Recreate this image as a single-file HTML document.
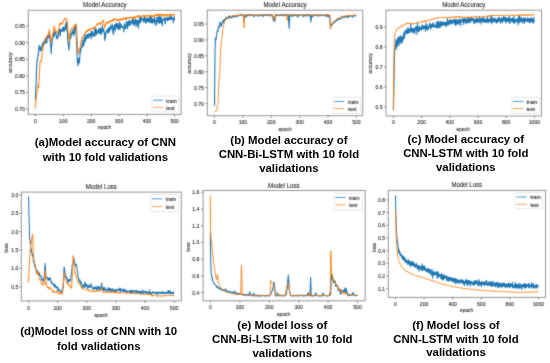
<!DOCTYPE html>
<html><head><meta charset="utf-8"><title>Model accuracy and loss</title>
<style>
html,body{margin:0;padding:0;background:#fff;width:550px;height:363px;overflow:hidden}
svg{display:block}
.t{font-family:"Liberation Sans",sans-serif;stroke:#3a3a3a;stroke-width:0.12px}
.cap{font-family:"Liberation Sans",sans-serif;font-weight:bold;font-size:11.4px;fill:#000;text-anchor:middle}
</style></head><body>
<svg width="550" height="363" viewBox="0 0 550 363" style="will-change:transform">
<defs><filter id="sf" x="0" y="0" width="550" height="363" filterUnits="userSpaceOnUse" color-interpolation-filters="sRGB"><feConvolveMatrix order="3" kernelMatrix="1 2 1 2 16 2 1 2 1" divisor="28" edgeMode="duplicate"/></filter></defs><g filter="url(#sf)"><rect width="550" height="363" fill="#fff"/><clipPath id="cla"><rect x="28.3" y="10.3" width="152.79999999999998" height="104.10000000000001"/></clipPath>
<g clip-path="url(#cla)">
<polyline points="35.30,100.00 35.58,95.32 35.86,89.24 36.14,83.08 36.30,80.76 36.42,73.51 36.60,65.00 36.69,66.58 36.97,62.06 37.25,60.33 37.50,60.81 37.53,60.40 37.81,58.24 38.09,54.78 38.30,54.95 38.37,55.55 38.65,49.59 38.92,48.52 39.00,45.41 39.20,46.70 39.48,46.14 39.76,49.23 40.04,47.85 40.32,50.84 40.60,51.02 40.88,50.81 41.00,46.97 41.15,49.81 41.43,49.65 41.71,48.92 41.99,45.05 42.27,45.87 42.55,43.98 42.83,43.27 43.10,45.57 43.11,42.27 43.39,43.30 43.66,44.59 43.94,41.65 44.22,42.15 44.50,42.21 44.78,41.79 45.06,39.13 45.34,41.14 45.62,43.13 45.89,37.52 46.17,41.56 46.45,39.88 46.50,38.43 46.73,42.82 47.01,40.00 47.29,35.84 47.57,37.64 47.85,38.03 48.12,36.06 48.40,37.14 48.68,35.19 48.96,36.02 49.24,36.93 49.30,32.83 49.52,36.37 49.80,37.50 50.08,41.02 50.36,40.91 50.63,44.46 50.91,47.59 51.19,52.10 51.30,53.51 51.47,46.91 51.75,44.92 52.03,44.70 52.31,36.56 52.59,36.53 52.70,36.01 52.86,38.33 53.14,36.67 53.42,34.11 53.70,33.47 53.98,33.15 54.26,36.11 54.54,31.67 54.80,31.39 54.82,32.75 55.09,32.53 55.37,33.11 55.65,31.99 55.93,34.94 56.21,34.79 56.49,38.79 56.77,38.48 56.90,37.45 57.05,38.60 57.33,36.03 57.60,38.38 57.88,35.70 58.16,36.40 58.44,32.02 58.72,34.90 59.00,30.16 59.28,28.92 59.56,32.02 59.83,30.26 60.11,31.99 60.30,36.02 60.39,29.49 60.67,29.72 60.95,31.27 61.23,31.67 61.51,30.07 61.79,29.81 62.06,31.52 62.34,30.93 62.62,27.47 62.90,29.28 63.10,29.37 63.18,27.12 63.46,30.02 63.74,27.79 64.02,31.78 64.30,30.27 64.57,30.19 64.85,28.88 65.00,29.95 65.13,25.58 65.41,26.56 65.69,28.85 65.97,22.74 66.25,28.16 66.50,21.91 66.53,27.39 66.80,26.14 67.08,31.69 67.30,31.98 67.36,29.20 67.64,38.45 67.92,42.22 68.20,42.40 68.48,45.33 68.76,48.93 68.80,47.74 69.03,49.99 69.31,43.99 69.59,42.51 69.87,38.41 70.15,36.23 70.30,33.49 70.43,38.69 70.71,35.34 70.99,37.35 71.27,34.97 71.54,33.11 71.82,33.52 72.10,32.66 72.38,33.50 72.60,32.40 72.66,32.50 72.94,29.94 73.22,30.87 73.50,35.82 73.77,30.60 74.05,29.51 74.10,32.42 74.33,34.10 74.61,27.32 74.89,29.26 75.17,27.65 75.45,24.54 75.60,29.46 75.73,29.16 76.00,32.25 76.28,33.39 76.40,37.17 76.56,39.97 76.84,49.26 77.10,55.04 77.12,55.00 77.40,63.08 77.68,61.81 77.90,65.62 77.96,64.44 78.24,61.14 78.51,58.57 78.60,60.24 78.79,58.64 79.07,59.52 79.35,60.45 79.40,63.01 79.63,59.34 79.91,55.54 80.19,50.35 80.20,48.45 80.47,52.35 80.74,51.25 81.02,47.75 81.30,48.08 81.58,47.45 81.70,47.08 81.86,46.95 82.14,43.45 82.42,47.10 82.70,40.64 82.97,44.59 83.20,43.36 83.25,44.10 83.53,45.87 83.81,44.65 84.09,38.65 84.37,37.11 84.65,42.10 84.93,37.80 85.21,39.57 85.48,41.02 85.50,35.68 85.76,34.50 86.04,39.39 86.32,38.74 86.60,37.92 86.88,38.34 87.16,36.22 87.44,34.63 87.70,37.34 87.71,35.60 87.99,33.89 88.27,38.23 88.55,36.74 88.83,37.48 89.11,34.21 89.39,34.65 89.67,33.65 89.94,33.62 90.22,35.68 90.50,33.30 90.78,35.48 90.80,35.43 91.06,39.01 91.34,31.60 91.62,36.46 91.90,34.30 92.18,34.41 92.45,31.26 92.73,33.34 93.01,35.88 93.29,34.05 93.57,34.35 93.85,33.49 94.13,36.56 94.41,33.97 94.68,29.21 94.96,32.41 95.00,29.65 95.24,26.57 95.52,32.08 95.80,35.74 96.08,32.60 96.36,29.60 96.64,29.74 96.91,33.85 97.00,31.64 97.19,31.38 97.47,31.13 97.75,31.30 98.03,32.93 98.31,32.35 98.59,31.59 98.87,28.84 99.15,32.17 99.42,29.55 99.70,33.37 99.98,28.22 100.26,30.65 100.54,30.90 100.82,28.01 101.10,34.59 101.38,33.99 101.65,29.79 101.93,32.44 102.21,31.55 102.49,25.03 102.50,31.24 102.77,30.61 103.05,30.98 103.33,28.51 103.61,30.31 103.88,30.56 104.16,33.58 104.20,31.73 104.44,33.81 104.72,40.38 105.00,39.09 105.00,39.45 105.28,33.11 105.56,37.23 105.80,33.10 105.84,32.97 106.12,32.26 106.39,30.87 106.67,30.93 106.95,29.74 107.23,29.67 107.51,30.06 107.79,33.06 108.07,30.81 108.35,29.29 108.62,27.99 108.90,27.69 109.18,32.40 109.46,29.84 109.74,28.70 110.02,27.63 110.30,25.79 110.58,27.89 110.80,29.81 110.85,27.02 111.13,27.29 111.41,27.21 111.69,27.84 111.97,24.02 112.25,26.90 112.53,25.88 112.81,32.32 113.09,31.97 113.36,34.37 113.64,33.62 113.92,26.69 114.20,25.44 114.48,27.06 114.76,26.54 114.90,24.32 115.04,27.47 115.32,30.79 115.59,25.72 115.87,25.75 116.15,23.82 116.43,26.73 116.71,23.20 116.99,23.42 117.27,28.58 117.55,23.69 117.82,27.97 118.10,28.86 118.38,25.99 118.66,26.55 118.94,29.54 119.10,24.77 119.22,23.96 119.50,22.42 119.78,25.63 120.06,28.93 120.33,27.93 120.61,23.88 120.89,24.21 121.17,25.13 121.45,27.02 121.73,26.06 122.01,27.13 122.29,27.45 122.56,26.27 122.84,26.98 123.12,27.67 123.40,27.17 123.68,28.60 123.96,31.75 124.10,29.00 124.24,27.67 124.52,23.53 124.79,28.21 125.07,25.34 125.35,26.83 125.63,28.61 125.91,27.21 126.19,24.98 126.47,21.23 126.75,23.86 127.03,22.86 127.30,25.44 127.58,28.69 127.86,23.89 128.14,21.76 128.30,21.70 128.42,25.21 128.70,25.21 128.98,20.83 129.26,23.05 129.53,20.21 129.81,25.15 130.09,25.01 130.37,25.02 130.65,21.56 130.93,23.70 131.21,22.24 131.49,21.64 131.76,21.71 132.04,19.56 132.32,19.21 132.60,24.10 132.88,21.90 133.16,22.76 133.44,24.45 133.72,18.40 133.80,20.47 134.00,22.53 134.27,22.95 134.55,21.64 134.83,26.14 135.11,23.72 135.39,19.25 135.67,19.62 135.95,23.41 136.23,23.56 136.50,20.55 136.78,26.16 137.06,22.76 137.34,24.13 137.62,20.27 137.90,20.91 138.18,20.78 138.46,28.19 138.73,20.62 139.01,24.19 139.29,19.18 139.57,20.89 139.85,16.77 140.13,19.52 140.41,22.45 140.69,17.45 140.70,22.56 140.97,20.94 141.24,17.90 141.52,19.10 141.80,19.19 142.08,20.09 142.36,19.02 142.64,18.38 142.92,19.60 143.20,19.03 143.47,20.33 143.75,21.52 144.03,22.27 144.31,16.84 144.59,20.21 144.87,18.77 145.15,18.05 145.43,22.08 145.70,19.06 145.98,23.50 146.26,18.48 146.54,21.05 146.82,19.70 147.10,18.54 147.38,21.49 147.50,19.86 147.66,21.54 147.94,20.13 148.21,17.87 148.49,20.06 148.77,20.42 149.05,22.44 149.33,18.37 149.61,20.30 149.89,16.62 150.17,21.87 150.44,18.08 150.72,16.51 151.00,20.37 151.28,22.96 151.56,17.20 151.84,18.29 152.12,20.45 152.40,21.84 152.67,23.12 152.95,19.03 153.23,19.11 153.51,22.01 153.79,19.08 154.07,21.72 154.35,18.66 154.40,18.13 154.63,16.74 154.91,24.85 155.18,20.03 155.46,21.24 155.74,20.62 156.02,21.01 156.30,20.74 156.58,24.81 156.86,18.30 157.14,17.14 157.41,18.31 157.69,17.58 157.97,22.13 158.25,22.27 158.53,18.33 158.81,17.36 159.09,19.61 159.37,23.43 159.64,14.14 159.92,21.48 160.20,17.93 160.48,22.56 160.76,17.88 161.04,19.59 161.30,16.89 161.32,18.05 161.60,23.23 161.88,22.44 162.15,23.25 162.43,25.71 162.71,19.39 162.99,19.53 163.27,19.94 163.55,19.79 163.83,19.74 164.11,17.45 164.38,19.74 164.66,19.77 164.94,22.67 165.22,23.91 165.50,19.47 165.78,18.06 166.06,19.57 166.34,18.35 166.61,18.03 166.89,19.50 167.17,17.31 167.45,20.91 167.73,19.32 168.01,20.07 168.20,19.10 168.29,17.89 168.57,17.38 168.85,18.91 169.12,18.19 169.40,19.89 169.68,19.33 169.96,16.31 170.24,19.43 170.52,16.30 170.80,17.86 171.08,18.54 171.35,14.59 171.63,19.33 171.91,19.43 172.19,18.72 172.47,18.11 172.75,18.30 173.03,18.44 173.31,22.58 173.58,19.67 173.86,19.25 174.14,16.21 174.42,19.45 174.70,20.22" fill="none" stroke="#1f77b4" stroke-width="1.15" stroke-linejoin="round" stroke-opacity="1"/>
<polyline points="35.10,108.51 35.38,105.53 35.66,103.19 35.94,99.25 36.22,97.48 36.30,96.52 36.50,95.19 36.78,93.30 37.05,90.86 37.33,89.12 37.50,88.42 37.61,87.85 37.89,86.59 38.17,84.57 38.30,85.07 38.45,86.64 38.60,87.80 38.73,85.47 39.01,80.39 39.10,80.27 39.29,76.22 39.57,69.83 39.85,66.09 39.90,64.15 40.13,62.39 40.30,61.28 40.40,62.11 40.68,60.94 40.96,60.92 41.24,61.31 41.52,60.89 41.60,59.95 41.80,57.52 42.08,53.73 42.36,50.73 42.40,50.81 42.64,49.86 42.92,48.62 43.20,47.97 43.48,45.99 43.76,45.25 44.03,44.54 44.31,43.37 44.59,42.52 44.87,41.09 45.15,39.64 45.20,39.78 45.43,38.75 45.71,38.01 45.99,38.69 46.27,37.95 46.55,37.71 46.83,36.28 47.11,36.52 47.38,35.98 47.66,35.43 47.90,34.37 47.94,35.18 48.22,34.84 48.50,33.63 48.78,32.18 49.06,31.52 49.30,31.08 49.34,29.54 49.62,32.39 49.90,34.26 50.18,35.86 50.46,37.91 50.74,39.16 51.01,40.29 51.29,41.82 51.30,42.09 51.57,39.95 51.85,38.68 52.13,37.64 52.41,36.65 52.69,34.08 52.97,32.62 53.25,31.22 53.53,30.28 53.81,28.08 54.09,27.31 54.10,26.02 54.36,27.19 54.64,28.01 54.92,29.32 55.20,30.28 55.48,29.82 55.76,30.95 56.04,32.40 56.20,32.37 56.32,31.85 56.60,32.92 56.88,32.45 57.16,32.24 57.44,31.55 57.72,32.09 57.99,31.25 58.27,31.71 58.55,30.50 58.83,30.32 58.90,30.80 59.11,28.27 59.39,26.20 59.60,23.93 59.67,23.32 59.95,23.75 60.23,23.47 60.51,24.03 60.79,23.19 61.07,23.21 61.34,23.97 61.62,24.41 61.90,24.22 62.18,23.19 62.40,23.21 62.46,23.76 62.74,22.44 63.02,21.53 63.30,21.58 63.58,21.26 63.86,20.13 64.14,19.24 64.40,18.88 64.42,19.92 64.70,18.99 64.97,19.08 65.25,19.04 65.53,19.02 65.80,18.33 65.81,18.77 66.09,18.47 66.37,19.13 66.50,18.99 66.65,20.50 66.93,20.72 67.21,21.17 67.30,21.62 67.49,24.34 67.77,28.75 68.00,30.90 68.05,31.55 68.32,34.16 68.60,37.90 68.88,39.39 69.16,41.14 69.20,41.86 69.44,40.38 69.72,36.74 70.00,34.19 70.28,32.49 70.30,31.95 70.56,31.50 70.84,30.33 71.12,30.97 71.40,30.29 71.68,29.14 71.80,28.94 71.95,27.49 72.23,28.64 72.51,28.04 72.79,28.17 73.07,28.11 73.35,27.42 73.63,26.56 73.91,27.41 74.10,26.73 74.19,26.76 74.47,26.06 74.75,25.64 75.03,24.09 75.30,25.30 75.58,24.26 75.60,24.66 75.86,25.58 76.14,25.13 76.40,24.70 76.42,25.60 76.70,31.18 76.98,37.28 77.10,40.04 77.26,41.86 77.54,48.06 77.60,48.24 77.82,51.32 78.10,53.91 78.10,53.84 78.38,53.04 78.66,51.88 78.70,51.69 78.93,49.65 79.21,48.68 79.40,48.42 79.49,48.50 79.77,48.21 80.05,47.93 80.20,47.26 80.33,47.28 80.61,44.30 80.89,42.06 80.90,41.85 81.17,41.24 81.45,40.14 81.73,39.48 82.01,38.14 82.28,37.66 82.40,38.64 82.56,37.18 82.84,36.61 83.12,36.51 83.40,36.11 83.68,34.72 83.96,34.68 84.24,34.76 84.52,33.95 84.70,33.56 84.80,34.15 85.08,32.66 85.36,32.67 85.64,31.99 85.91,32.63 86.19,30.53 86.20,31.16 86.47,31.10 86.75,31.56 87.03,31.39 87.31,31.64 87.59,30.02 87.87,31.04 88.15,30.38 88.43,30.05 88.71,30.52 88.99,29.65 89.20,28.96 89.26,29.79 89.54,29.12 89.82,29.44 90.10,29.84 90.38,29.71 90.66,30.24 90.94,29.24 91.22,28.47 91.50,28.75 91.78,28.56 92.06,28.31 92.34,29.03 92.62,28.38 92.89,27.61 93.17,28.84 93.45,28.33 93.73,28.46 94.01,28.23 94.29,28.38 94.57,27.98 94.85,28.48 95.00,28.01 95.13,27.78 95.41,27.33 95.69,25.94 95.97,26.12 96.24,25.62 96.52,25.39 96.80,24.15 97.00,25.32 97.08,24.52 97.36,23.77 97.64,23.43 97.92,24.05 98.20,24.06 98.48,23.65 98.76,23.96 99.04,23.50 99.32,24.00 99.60,23.27 99.87,23.52 100.15,23.94 100.43,24.64 100.71,22.76 100.99,22.94 101.20,22.68 101.27,23.42 101.55,22.16 101.83,22.20 102.11,22.13 102.39,21.36 102.67,21.08 102.95,21.03 103.20,19.95 103.22,20.40 103.50,22.29 103.78,23.95 104.06,25.16 104.34,25.74 104.60,27.67 104.62,28.23 104.90,27.15 105.18,25.87 105.46,24.51 105.74,24.32 106.00,22.81 106.02,22.51 106.30,22.58 106.58,23.59 106.85,22.86 107.13,23.21 107.41,22.28 107.69,22.87 107.97,21.99 108.25,22.09 108.53,23.30 108.81,22.33 109.09,21.58 109.37,21.67 109.40,21.86 109.65,22.18 109.93,21.19 110.20,20.43 110.48,21.02 110.76,21.03 111.04,20.93 111.32,21.40 111.60,20.76 111.88,20.87 112.16,19.77 112.44,20.61 112.72,21.09 113.00,20.29 113.28,19.89 113.56,19.70 113.60,20.49 113.83,18.70 114.11,18.59 114.30,18.53 114.39,18.76 114.67,18.45 114.95,19.10 115.23,19.09 115.51,19.57 115.79,19.72 116.07,19.50 116.30,20.29 116.35,20.73 116.63,19.75 116.91,20.05 117.18,20.44 117.46,19.52 117.74,20.08 118.02,19.40 118.30,20.44 118.58,20.97 118.86,20.76 119.14,19.58 119.42,20.00 119.70,19.63 119.98,19.56 120.26,20.23 120.50,18.74 120.54,19.92 120.81,19.33 121.09,20.01 121.37,19.35 121.65,18.88 121.93,19.31 122.21,19.49 122.49,19.10 122.77,19.28 123.05,18.73 123.33,17.88 123.61,19.35 123.89,19.21 124.16,18.89 124.44,18.80 124.72,19.24 125.00,18.45 125.28,18.28 125.50,18.51 125.56,19.18 125.84,17.82 126.12,19.04 126.40,18.05 126.68,17.75 126.96,18.86 127.24,18.11 127.52,17.44 127.79,17.84 128.07,18.41 128.35,18.47 128.63,17.59 128.91,17.93 129.19,18.02 129.47,17.27 129.75,17.70 130.03,17.43 130.31,17.11 130.59,17.06 130.87,17.27 131.00,17.21 131.14,16.95 131.42,17.08 131.70,17.91 131.98,17.52 132.26,17.91 132.54,18.13 132.82,17.88 133.10,18.79 133.38,17.30 133.66,18.17 133.80,17.64 133.94,18.68 134.22,18.52 134.50,16.60 134.77,17.01 135.05,17.73 135.33,17.71 135.61,17.59 135.89,17.10 136.17,17.28 136.45,17.29 136.73,16.83 137.01,17.30 137.29,15.56 137.57,16.92 137.85,16.00 137.90,16.98 138.12,16.36 138.40,16.00 138.68,16.61 138.96,15.94 139.24,15.91 139.52,15.55 139.80,16.29 140.08,16.53 140.36,16.76 140.64,16.15 140.92,16.72 141.20,16.17 141.48,16.09 141.75,16.40 142.03,16.61 142.31,15.88 142.59,15.90 142.87,15.92 143.15,16.01 143.43,15.49 143.71,16.42 143.99,15.68 144.27,16.09 144.55,15.41 144.80,15.98 144.83,16.00 145.10,15.62 145.38,16.86 145.66,16.06 145.94,16.79 146.22,16.40 146.50,15.62 146.78,15.78 147.06,16.21 147.34,16.05 147.62,16.07 147.90,15.93 148.18,15.19 148.46,16.01 148.73,15.03 149.01,16.35 149.29,15.83 149.57,15.86 149.85,16.13 150.13,16.40 150.41,15.57 150.69,15.44 150.97,15.80 151.25,15.34 151.53,15.90 151.70,17.20 151.81,15.84 152.08,16.59 152.36,15.49 152.64,16.23 152.92,15.82 153.20,15.86 153.48,16.08 153.76,16.57 154.04,15.70 154.32,15.57 154.60,14.92 154.88,15.61 155.16,15.10 155.44,15.54 155.71,15.01 155.80,15.87 155.99,14.01 156.27,14.85 156.55,15.44 156.83,14.82 157.11,14.60 157.39,14.87 157.67,14.31 157.95,15.06 158.23,16.22 158.51,15.57 158.79,14.45 159.06,14.56 159.34,14.80 159.62,15.50 159.90,14.59 160.18,14.65 160.46,15.44 160.74,15.43 161.02,14.81 161.30,14.44 161.30,14.23 161.58,14.68 161.86,13.95 162.14,15.47 162.42,14.81 162.69,15.39 162.97,16.12 163.25,15.80 163.53,14.67 163.81,15.71 164.09,15.88 164.37,14.96 164.65,14.89 164.93,15.34 165.21,14.63 165.49,16.19 165.77,14.28 166.04,14.96 166.32,15.41 166.60,15.46 166.80,15.68 166.88,15.72 167.16,15.42 167.44,16.03 167.72,14.33 168.00,15.34 168.28,14.93 168.56,15.29 168.84,15.27 169.12,14.65 169.40,14.72 169.60,15.40 169.67,15.17 169.95,14.64 170.23,15.98 170.51,16.10 170.79,14.20 171.07,15.06 171.35,16.15 171.63,15.27 171.91,14.97 172.19,14.74 172.47,14.56 172.75,14.71 173.02,14.52 173.30,15.15 173.58,14.57 173.86,14.53 174.14,14.13 174.42,14.69 174.70,14.25" fill="none" stroke="#ff7f0e" stroke-width="1.05" stroke-linejoin="round" stroke-opacity="1"/>
</g>
<rect x="28.3" y="10.3" width="152.79999999999998" height="104.10000000000001" fill="none" stroke="#959595" stroke-width="1"/>
<line x1="35.45" y1="114.4" x2="35.45" y2="116.4" stroke="#666" stroke-width="0.75"/>
<text class="t" x="35.45" y="122.60" font-size="5.61" text-anchor="middle" fill="#1e1e1e" textLength="2.84" lengthAdjust="spacingAndGlyphs">0</text>
<line x1="63.30" y1="114.4" x2="63.30" y2="116.4" stroke="#666" stroke-width="0.75"/>
<text class="t" x="63.30" y="122.60" font-size="5.61" text-anchor="middle" fill="#1e1e1e" textLength="8.51" lengthAdjust="spacingAndGlyphs">100</text>
<line x1="91.15" y1="114.4" x2="91.15" y2="116.4" stroke="#666" stroke-width="0.75"/>
<text class="t" x="91.15" y="122.60" font-size="5.61" text-anchor="middle" fill="#1e1e1e" textLength="8.51" lengthAdjust="spacingAndGlyphs">200</text>
<line x1="119.00" y1="114.4" x2="119.00" y2="116.4" stroke="#666" stroke-width="0.75"/>
<text class="t" x="119.00" y="122.60" font-size="5.61" text-anchor="middle" fill="#1e1e1e" textLength="8.51" lengthAdjust="spacingAndGlyphs">300</text>
<line x1="146.85" y1="114.4" x2="146.85" y2="116.4" stroke="#666" stroke-width="0.75"/>
<text class="t" x="146.85" y="122.60" font-size="5.61" text-anchor="middle" fill="#1e1e1e" textLength="8.51" lengthAdjust="spacingAndGlyphs">400</text>
<line x1="174.70" y1="114.4" x2="174.70" y2="116.4" stroke="#666" stroke-width="0.75"/>
<text class="t" x="174.70" y="122.60" font-size="5.61" text-anchor="middle" fill="#1e1e1e" textLength="8.51" lengthAdjust="spacingAndGlyphs">500</text>
<line x1="26.3" y1="109.00" x2="28.3" y2="109.00" stroke="#666" stroke-width="0.75"/>
<text class="t" x="24.90" y="111.05" font-size="5.61" text-anchor="end" fill="#1e1e1e" textLength="9.92" lengthAdjust="spacingAndGlyphs">0.70</text>
<line x1="26.3" y1="92.40" x2="28.3" y2="92.40" stroke="#666" stroke-width="0.75"/>
<text class="t" x="24.90" y="94.45" font-size="5.61" text-anchor="end" fill="#1e1e1e" textLength="9.92" lengthAdjust="spacingAndGlyphs">0.75</text>
<line x1="26.3" y1="75.80" x2="28.3" y2="75.80" stroke="#666" stroke-width="0.75"/>
<text class="t" x="24.90" y="77.85" font-size="5.61" text-anchor="end" fill="#1e1e1e" textLength="9.92" lengthAdjust="spacingAndGlyphs">0.80</text>
<line x1="26.3" y1="59.20" x2="28.3" y2="59.20" stroke="#666" stroke-width="0.75"/>
<text class="t" x="24.90" y="61.25" font-size="5.61" text-anchor="end" fill="#1e1e1e" textLength="9.92" lengthAdjust="spacingAndGlyphs">0.85</text>
<line x1="26.3" y1="42.60" x2="28.3" y2="42.60" stroke="#666" stroke-width="0.75"/>
<text class="t" x="24.90" y="44.65" font-size="5.61" text-anchor="end" fill="#1e1e1e" textLength="9.92" lengthAdjust="spacingAndGlyphs">0.90</text>
<line x1="26.3" y1="26.00" x2="28.3" y2="26.00" stroke="#666" stroke-width="0.75"/>
<text class="t" x="24.90" y="28.05" font-size="5.61" text-anchor="end" fill="#1e1e1e" textLength="9.92" lengthAdjust="spacingAndGlyphs">0.95</text>
<text class="t" x="104.90" y="7.30" font-size="6.8" text-anchor="middle" fill="#1e1e1e" textLength="43.60" lengthAdjust="spacingAndGlyphs">Model Accuracy</text>
<text class="t" x="104.60" y="129.30" font-size="5.61" text-anchor="middle" fill="#1e1e1e" textLength="13.20" lengthAdjust="spacingAndGlyphs">epoch</text>
<text class="t" x="12.10" y="62.70" font-size="5.61" text-anchor="middle" fill="#1e1e1e" textLength="20.60" lengthAdjust="spacingAndGlyphs" transform="rotate(-90 12.10 62.70)">accuracy</text>
<rect x="151.9" y="96.2" width="26.900000000000006" height="15.599999999999994" rx="1" fill="#fff" fill-opacity="0.85" stroke="#d6d6d6" stroke-width="0.6"/>
<line x1="153.0" y1="100.2" x2="163.2" y2="100.2" stroke="#1f77b4" stroke-width="0.9" stroke-opacity="0.85"/>
<line x1="153.0" y1="107.3" x2="163.2" y2="107.3" stroke="#ff7f0e" stroke-width="0.9" stroke-opacity="0.8"/>
<text class="t" x="166.10" y="102.50" font-size="5.6" text-anchor="start" fill="#1e1e1e" textLength="10.60" lengthAdjust="spacingAndGlyphs">train</text>
<text class="t" x="166.10" y="109.60" font-size="5.6" text-anchor="start" fill="#1e1e1e" textLength="8.40" lengthAdjust="spacingAndGlyphs">test</text>
<clipPath id="clb"><rect x="207.3" y="10.2" width="155.39999999999998" height="105.5"/></clipPath>
<g clip-path="url(#clb)">
<polyline points="214.50,105.66 214.70,80.89 214.78,73.52 215.00,55.63 215.07,51.81 215.30,38.70 215.35,38.63 215.63,38.93 215.80,40.39 215.92,37.66 216.20,39.01 216.49,35.94 216.77,33.51 217.05,32.30 217.30,30.77 217.34,31.66 217.62,30.07 217.90,31.58 218.19,28.84 218.47,26.62 218.70,27.85 218.75,26.25 219.04,27.28 219.32,27.34 219.60,25.78 219.89,22.58 220.17,22.07 220.20,24.59 220.46,23.35 220.74,23.33 221.02,24.69 221.31,26.36 221.59,25.51 221.60,24.39 221.87,24.06 222.16,23.76 222.44,22.05 222.72,21.09 223.01,21.58 223.10,20.48 223.29,21.10 223.58,20.96 223.86,22.66 224.14,19.56 224.43,19.92 224.71,19.60 224.99,19.82 225.28,20.04 225.56,18.49 225.84,17.94 226.00,17.14 226.13,17.67 226.41,18.73 226.69,18.25 226.98,17.34 227.26,17.74 227.55,17.95 227.83,18.20 228.11,17.30 228.40,17.45 228.68,16.26 228.96,16.64 229.25,18.45 229.53,15.77 229.81,16.93 230.10,17.20 230.38,16.72 230.40,16.43 230.67,16.87 230.95,16.86 231.23,16.90 231.52,17.20 231.80,18.01 232.08,16.27 232.37,16.32 232.65,16.71 232.93,16.89 233.22,16.98 233.50,16.18 233.78,16.88 234.07,16.95 234.35,16.88 234.64,16.94 234.70,16.18 234.92,16.12 235.20,16.52 235.49,15.44 235.77,16.10 236.05,15.71 236.34,15.72 236.62,15.40 236.90,17.02 237.19,16.32 237.47,15.99 237.76,15.93 238.04,15.46 238.32,15.36 238.61,15.07 238.89,15.43 239.10,15.17 239.17,15.45 239.46,15.80 239.74,15.23 240.02,14.78 240.31,14.96 240.59,14.78 240.87,14.85 241.16,15.60 241.44,15.27 241.73,14.74 242.01,15.38 242.29,15.56 242.58,15.06 242.86,14.96 243.14,15.06 243.43,15.24 243.60,15.34 243.71,16.36 243.99,18.90 244.20,22.00 244.28,22.13 244.56,19.01 244.80,14.95 244.85,15.26 245.13,15.42 245.41,16.73 245.70,16.69 245.98,15.11 246.26,14.89 246.55,16.10 246.83,16.60 247.11,15.45 247.40,15.43 247.68,15.47 247.96,15.25 248.25,14.41 248.53,14.95 248.82,15.01 249.10,14.85 249.38,15.21 249.67,15.51 249.95,15.00 250.23,14.81 250.52,15.76 250.80,15.01 251.08,14.78 251.37,15.22 251.65,15.28 251.94,14.94 252.22,15.39 252.50,15.00 252.79,14.87 253.07,15.20 253.35,15.38 253.64,15.24 253.92,16.88 254.20,15.85 254.49,16.02 254.77,14.94 255.05,15.57 255.34,15.13 255.62,15.11 255.91,15.37 256.19,15.42 256.47,15.53 256.76,15.25 257.04,14.97 257.32,15.00 257.61,15.63 257.89,16.42 258.17,15.85 258.46,15.28 258.74,15.47 259.03,15.61 259.31,15.20 259.59,14.70 259.88,14.80 260.16,14.72 260.44,15.63 260.73,14.90 261.01,15.52 261.29,15.33 261.58,15.66 261.86,15.45 262.14,15.12 262.43,15.10 262.71,15.66 263.00,16.53 263.28,15.27 263.56,15.14 263.85,15.63 264.13,14.64 264.41,15.23 264.70,14.88 264.98,15.21 265.26,15.40 265.55,15.13 265.83,15.38 266.12,14.67 266.40,15.48 266.68,14.97 266.97,15.34 267.25,15.20 267.53,14.37 267.82,14.92 268.10,15.22 268.38,15.62 268.67,15.24 268.95,15.23 269.23,14.73 269.52,15.58 269.80,15.69 270.09,15.16 270.37,15.08 270.65,14.66 270.94,15.41 271.22,15.96 271.50,15.37 271.79,15.53 272.07,15.31 272.35,14.88 272.64,16.40 272.80,16.60 272.92,18.19 273.21,19.68 273.30,20.61 273.49,19.57 273.77,18.34 274.00,17.02 274.06,17.14 274.34,18.97 274.62,20.41 274.80,21.47 274.91,20.57 275.19,17.82 275.47,14.82 275.50,14.75 275.76,14.66 276.04,15.20 276.32,15.27 276.61,15.75 276.89,14.70 277.18,14.95 277.46,15.42 277.74,15.08 278.03,15.05 278.31,15.66 278.59,15.05 278.88,14.80 279.16,14.75 279.44,15.25 279.73,15.24 280.01,14.74 280.30,14.85 280.58,15.31 280.86,15.32 281.15,14.96 281.43,15.34 281.71,15.32 282.00,14.62 282.28,15.06 282.56,15.27 282.85,14.98 283.13,14.51 283.41,15.07 283.70,15.38 283.98,15.62 284.27,14.49 284.55,15.93 284.83,14.81 285.12,15.44 285.40,15.52 285.68,15.44 285.97,15.19 286.25,14.80 286.53,15.34 286.82,14.94 287.10,14.39 287.39,16.00 287.67,15.36 287.95,15.70 288.24,14.88 288.40,15.59 288.52,17.93 288.80,23.39 289.09,28.50 289.10,28.42 289.37,24.01 289.65,17.58 289.80,14.70 289.94,15.19 290.22,14.85 290.50,15.10 290.79,15.12 291.07,15.90 291.36,16.54 291.64,15.58 291.92,15.53 292.21,14.92 292.49,15.08 292.77,16.14 293.06,16.16 293.34,15.34 293.62,14.76 293.91,15.19 294.19,15.64 294.48,14.92 294.76,15.22 295.04,14.88 295.33,14.81 295.61,14.78 295.89,15.59 296.18,15.86 296.46,15.29 296.74,14.94 297.03,15.36 297.31,15.18 297.59,17.01 297.88,16.83 298.16,15.80 298.45,15.87 298.73,15.03 299.01,15.03 299.30,14.63 299.58,15.02 299.86,14.72 300.15,15.11 300.43,14.86 300.71,15.18 301.00,15.29 301.28,14.72 301.57,14.91 301.85,14.87 302.13,15.37 302.42,15.66 302.70,15.48 302.98,16.12 303.27,16.74 303.55,14.79 303.83,15.61 304.12,15.18 304.40,15.05 304.68,16.13 304.97,15.63 305.25,14.84 305.54,15.20 305.82,15.09 306.10,15.18 306.39,14.71 306.67,15.15 306.95,16.23 307.24,15.54 307.52,15.52 307.80,15.17 308.09,15.85 308.37,14.94 308.66,15.23 308.94,14.58 309.22,14.77 309.51,15.55 309.79,14.87 310.07,15.31 310.20,15.13 310.36,16.38 310.64,19.39 310.90,21.90 310.92,21.67 311.21,19.24 311.49,16.42 311.60,14.98 311.77,14.96 312.06,16.15 312.34,15.89 312.63,15.54 312.91,16.47 313.19,16.51 313.48,15.35 313.76,15.14 314.04,14.93 314.33,14.92 314.61,14.90 314.89,15.09 315.18,15.08 315.46,15.44 315.75,15.10 316.03,15.16 316.31,14.86 316.60,15.73 316.88,15.39 317.16,15.78 317.45,15.49 317.73,15.70 318.01,15.18 318.30,15.48 318.58,16.08 318.86,14.90 319.15,15.63 319.43,15.79 319.72,15.41 320.00,15.52 320.28,15.68 320.57,15.10 320.85,15.43 321.13,15.04 321.42,15.10 321.70,15.13 321.98,15.28 322.27,15.37 322.55,15.47 322.84,14.90 323.12,15.95 323.40,15.70 323.69,15.57 323.97,15.24 324.25,15.33 324.54,15.53 324.82,15.49 325.10,14.86 325.39,15.61 325.67,16.28 325.95,14.82 326.24,15.70 326.52,15.51 326.81,15.37 327.09,15.83 327.37,15.05 327.66,15.56 327.94,17.12 328.22,16.60 328.51,15.39 328.79,15.47 329.07,15.30 329.36,15.93 329.64,15.61 329.80,16.72 329.93,18.29 330.21,22.87 330.40,25.73 330.49,24.87 330.78,25.39 331.06,24.79 331.34,24.79 331.63,25.78 331.91,24.45 332.19,23.72 332.48,24.20 332.76,23.52 333.00,23.73 333.04,23.31 333.33,22.72 333.61,22.74 333.90,22.92 334.18,22.60 334.46,22.09 334.75,21.88 335.03,21.60 335.31,21.23 335.60,21.78 335.88,20.96 336.16,20.38 336.45,20.36 336.73,20.51 337.02,20.25 337.30,19.79 337.40,19.54 337.58,19.68 337.87,19.23 338.15,19.77 338.43,19.76 338.72,19.04 339.00,19.18 339.28,19.31 339.57,19.02 339.85,18.70 340.13,19.23 340.42,18.65 340.70,18.22 340.99,18.43 341.27,18.21 341.55,17.70 341.84,17.86 342.12,17.66 342.40,16.99 342.69,17.42 342.97,17.26 343.20,17.11 343.25,16.73 343.54,17.07 343.82,17.11 344.11,17.09 344.39,16.65 344.67,17.14 344.96,16.51 345.24,16.76 345.52,17.28 345.81,17.26 346.09,16.91 346.37,16.94 346.66,16.42 346.94,16.38 347.22,16.49 347.51,16.68 347.79,15.62 348.08,16.24 348.36,17.72 348.64,16.83 348.93,15.85 349.00,15.80 349.21,16.13 349.49,15.74 349.78,16.02 350.06,16.09 350.34,15.72 350.63,15.96 350.91,16.40 351.20,15.97 351.48,15.65 351.76,15.80 352.05,15.53 352.33,16.36 352.61,17.32 352.90,15.74 353.18,15.65 353.46,16.02 353.75,15.51 354.03,15.69 354.31,15.30 354.60,15.34 354.88,15.41 355.17,16.20 355.45,15.40 355.73,15.34 356.02,15.30 356.30,15.40" fill="none" stroke="#1f77b4" stroke-width="1.1" stroke-linejoin="round" stroke-opacity="1"/>
<polyline points="214.50,111.71 214.78,111.48 215.07,111.84 215.35,111.26 215.63,111.46 215.92,111.05 216.20,111.02 216.49,110.40 216.50,110.72 216.77,109.17 217.05,107.49 217.34,105.36 217.50,105.17 217.62,104.69 217.90,104.30 218.10,104.09 218.19,100.78 218.47,90.10 218.60,84.73 218.75,82.91 219.04,79.69 219.32,76.13 219.60,72.48 219.80,70.01 219.89,68.19 220.17,62.77 220.30,60.55 220.46,52.83 220.50,51.43 220.74,49.07 221.02,46.16 221.31,43.87 221.59,40.72 221.87,38.06 221.90,37.93 222.16,36.09 222.44,33.84 222.72,31.53 223.01,29.41 223.10,28.12 223.29,27.77 223.58,25.82 223.86,24.53 224.14,23.11 224.43,21.45 224.50,21.01 224.71,20.85 224.99,20.76 225.28,20.57 225.56,20.22 225.84,19.49 226.13,19.20 226.41,18.83 226.69,18.83 226.98,17.87 227.26,18.35 227.50,17.63 227.55,17.54 227.83,17.72 228.11,17.79 228.40,17.52 228.68,17.60 228.96,17.27 229.25,17.45 229.53,17.35 229.81,16.92 230.10,17.20 230.38,16.79 230.67,16.67 230.95,16.32 231.23,16.38 231.52,16.54 231.80,15.92 231.80,16.41 232.08,16.30 232.37,16.24 232.65,15.58 232.93,16.07 233.22,16.22 233.50,15.83 233.78,16.00 234.07,15.34 234.35,16.07 234.64,15.70 234.92,16.04 235.20,15.32 235.49,15.92 235.77,15.65 236.05,15.87 236.34,15.40 236.62,15.44 236.90,16.11 237.19,15.30 237.47,15.30 237.76,15.37 238.04,15.14 238.32,15.65 238.61,15.75 238.89,15.10 239.10,14.82 239.17,15.54 239.46,15.50 239.74,15.41 240.02,15.48 240.31,14.95 240.59,15.11 240.87,14.79 241.16,14.76 241.44,15.34 241.73,14.91 242.01,15.63 242.29,15.06 242.58,14.86 242.86,15.20 243.14,15.43 243.43,15.08 243.60,14.65 243.71,17.42 243.99,23.77 244.20,27.73 244.28,25.98 244.56,20.33 244.80,14.98 244.85,14.67 245.13,14.86 245.41,14.76 245.70,15.02 245.98,14.98 246.26,15.24 246.55,15.13 246.83,14.56 247.11,15.05 247.40,15.17 247.68,15.06 247.96,15.21 248.25,14.81 248.53,14.71 248.82,15.18 249.10,14.68 249.38,14.41 249.67,15.21 249.95,14.77 250.23,14.87 250.52,14.60 250.80,14.62 251.08,14.66 251.37,14.86 251.65,15.04 251.94,14.38 252.22,15.14 252.50,14.65 252.79,14.68 253.07,15.12 253.35,14.93 253.64,14.57 253.92,15.41 254.20,14.73 254.49,15.01 254.77,15.00 255.05,15.30 255.34,14.84 255.62,15.20 255.91,14.76 256.19,15.23 256.47,14.76 256.76,14.86 257.04,15.42 257.32,15.03 257.61,14.98 257.89,15.51 258.17,15.04 258.46,14.75 258.74,15.13 259.03,14.65 259.31,15.23 259.59,15.25 259.88,14.81 260.16,14.79 260.44,14.99 260.73,14.95 261.01,14.71 261.29,15.09 261.58,14.44 261.86,14.84 262.14,14.85 262.43,14.88 262.71,15.03 263.00,14.64 263.28,15.10 263.56,14.90 263.85,14.79 264.13,14.61 264.41,14.65 264.70,15.04 264.98,14.71 265.26,14.97 265.55,15.22 265.83,15.21 266.12,15.34 266.40,14.88 266.68,14.68 266.97,15.21 267.25,15.03 267.53,15.23 267.82,14.95 268.10,15.25 268.38,15.16 268.67,15.13 268.95,15.08 269.23,15.05 269.52,15.01 269.80,15.01 270.09,15.20 270.37,14.82 270.65,15.38 270.94,14.92 271.22,15.20 271.50,14.93 271.79,14.89 272.07,15.46 272.35,14.87 272.64,14.63 272.80,14.77 272.92,15.92 273.21,18.97 273.30,19.30 273.49,18.70 273.77,17.03 273.90,16.84 274.06,17.48 274.34,18.77 274.60,19.08 274.62,19.26 274.91,17.44 275.19,15.37 275.30,14.95 275.47,14.89 275.76,14.37 276.04,15.11 276.32,15.09 276.61,14.85 276.89,14.63 277.18,15.34 277.46,15.04 277.74,15.23 278.03,15.33 278.31,14.85 278.59,15.18 278.88,14.92 279.16,14.97 279.44,14.97 279.73,14.99 280.01,15.27 280.30,15.03 280.58,14.96 280.86,14.93 281.15,15.09 281.43,14.78 281.71,14.88 282.00,15.00 282.28,14.87 282.56,14.98 282.85,14.86 283.13,15.52 283.41,15.35 283.70,15.14 283.98,15.01 284.27,15.58 284.55,15.11 284.83,15.01 285.12,15.11 285.40,15.12 285.68,15.39 285.97,15.04 286.25,15.57 286.53,14.83 286.60,15.22 286.82,16.83 287.10,20.19 287.20,20.57 287.39,19.15 287.67,17.13 287.90,15.36 287.95,14.77 288.24,14.96 288.52,14.70 288.80,15.08 289.09,15.02 289.37,14.96 289.65,14.88 289.94,14.95 290.22,14.86 290.50,15.18 290.79,15.43 291.07,14.57 291.36,15.02 291.64,14.95 291.92,15.17 292.21,14.81 292.49,15.01 292.77,14.79 293.06,15.22 293.34,15.07 293.62,15.01 293.91,15.14 294.19,14.99 294.48,14.66 294.76,15.20 295.04,15.12 295.33,15.01 295.61,15.30 295.89,15.35 296.18,14.78 296.46,14.85 296.74,15.44 297.03,15.40 297.31,14.87 297.59,14.75 297.88,14.89 298.16,14.93 298.45,14.65 298.73,15.06 299.01,14.73 299.30,14.75 299.58,15.28 299.86,14.88 300.15,15.03 300.43,15.21 300.71,15.25 301.00,14.97 301.28,15.06 301.57,14.84 301.85,15.49 302.13,15.21 302.42,14.77 302.70,15.05 302.98,15.23 303.27,15.17 303.55,15.51 303.83,15.39 304.12,14.92 304.40,15.03 304.68,14.73 304.97,15.11 305.25,15.09 305.54,15.73 305.82,15.07 306.10,14.53 306.39,14.88 306.67,15.08 306.95,14.74 307.24,14.83 307.52,14.96 307.80,15.14 308.09,15.01 308.37,14.83 308.66,15.25 308.94,14.92 309.22,14.93 309.51,14.71 309.79,14.85 310.07,15.21 310.36,14.65 310.64,15.03 310.92,15.23 311.21,14.96 311.49,15.11 311.77,14.77 312.06,15.38 312.34,15.33 312.63,15.11 312.91,14.61 313.19,14.79 313.48,15.29 313.76,15.48 314.04,15.12 314.33,15.36 314.61,14.90 314.89,15.00 315.18,15.05 315.46,15.16 315.75,14.67 316.03,15.29 316.31,15.38 316.60,14.76 316.88,14.71 317.16,15.14 317.45,14.89 317.73,14.46 318.01,15.25 318.30,15.09 318.58,14.93 318.86,15.58 319.15,15.08 319.43,14.86 319.72,15.08 320.00,14.79 320.28,14.86 320.57,15.15 320.85,14.91 321.13,14.94 321.42,15.47 321.70,15.26 321.98,15.25 322.27,15.18 322.55,15.17 322.84,15.41 323.12,15.05 323.40,15.51 323.69,14.81 323.97,14.99 324.25,14.71 324.54,14.96 324.82,15.18 325.10,15.41 325.39,14.88 325.67,15.05 325.95,14.96 326.24,14.87 326.52,14.75 326.81,15.07 327.09,14.62 327.37,15.08 327.66,15.06 327.94,14.89 328.22,14.80 328.51,14.70 328.79,15.52 329.07,14.71 329.36,15.44 329.64,15.20 329.80,14.96 329.93,17.60 330.21,24.58 330.40,29.08 330.49,28.18 330.78,27.62 331.06,27.24 331.34,26.34 331.63,26.04 331.91,24.67 332.19,24.23 332.48,23.06 332.76,23.18 333.00,21.87 333.04,21.46 333.33,21.75 333.61,21.51 333.90,21.80 334.18,21.00 334.46,20.85 334.75,20.77 335.03,20.79 335.31,20.14 335.60,20.18 335.88,19.82 336.16,19.39 336.45,19.25 336.73,19.00 337.02,18.54 337.30,18.84 337.40,18.10 337.58,18.67 337.87,18.51 338.15,18.14 338.43,17.87 338.72,17.89 339.00,17.96 339.28,17.92 339.57,17.70 339.85,17.77 340.13,17.27 340.42,17.36 340.70,16.81 340.99,17.28 341.27,17.02 341.55,16.77 341.84,17.06 342.12,16.83 342.40,15.85 342.69,16.45 342.97,15.97 343.20,16.52 343.25,16.87 343.54,16.08 343.82,16.19 344.11,16.08 344.39,16.19 344.67,16.23 344.96,16.36 345.24,15.76 345.52,16.36 345.81,15.70 346.09,15.97 346.37,16.16 346.66,16.01 346.94,15.56 347.22,15.59 347.51,15.61 347.79,15.68 348.08,15.95 348.36,15.30 348.64,15.71 348.93,15.71 349.00,15.69 349.21,15.66 349.49,15.91 349.78,15.64 350.06,15.72 350.34,15.64 350.63,15.93 350.91,15.00 351.20,15.78 351.48,15.38 351.76,15.37 352.05,15.18 352.33,14.95 352.61,15.31 352.90,15.22 353.18,15.50 353.46,15.00 353.75,15.71 354.03,15.41 354.31,15.27 354.60,15.14 354.88,15.11 355.17,15.01 355.45,15.15 355.73,15.27 356.02,15.22 356.30,14.90" fill="none" stroke="#ff7f0e" stroke-width="0.9" stroke-linejoin="round" stroke-opacity="1"/>
</g>
<rect x="207.3" y="10.2" width="155.39999999999998" height="105.5" fill="none" stroke="#959595" stroke-width="1"/>
<line x1="214.50" y1="115.7" x2="214.50" y2="117.7" stroke="#666" stroke-width="0.75"/>
<text class="t" x="214.50" y="123.90" font-size="5.61" text-anchor="middle" fill="#1e1e1e" textLength="2.84" lengthAdjust="spacingAndGlyphs">0</text>
<line x1="242.88" y1="115.7" x2="242.88" y2="117.7" stroke="#666" stroke-width="0.75"/>
<text class="t" x="242.88" y="123.90" font-size="5.61" text-anchor="middle" fill="#1e1e1e" textLength="8.51" lengthAdjust="spacingAndGlyphs">100</text>
<line x1="271.26" y1="115.7" x2="271.26" y2="117.7" stroke="#666" stroke-width="0.75"/>
<text class="t" x="271.26" y="123.90" font-size="5.61" text-anchor="middle" fill="#1e1e1e" textLength="8.51" lengthAdjust="spacingAndGlyphs">200</text>
<line x1="299.64" y1="115.7" x2="299.64" y2="117.7" stroke="#666" stroke-width="0.75"/>
<text class="t" x="299.64" y="123.90" font-size="5.61" text-anchor="middle" fill="#1e1e1e" textLength="8.51" lengthAdjust="spacingAndGlyphs">300</text>
<line x1="328.02" y1="115.7" x2="328.02" y2="117.7" stroke="#666" stroke-width="0.75"/>
<text class="t" x="328.02" y="123.90" font-size="5.61" text-anchor="middle" fill="#1e1e1e" textLength="8.51" lengthAdjust="spacingAndGlyphs">400</text>
<line x1="356.40" y1="115.7" x2="356.40" y2="117.7" stroke="#666" stroke-width="0.75"/>
<text class="t" x="356.40" y="123.90" font-size="5.61" text-anchor="middle" fill="#1e1e1e" textLength="8.51" lengthAdjust="spacingAndGlyphs">500</text>
<line x1="205.3" y1="103.60" x2="207.3" y2="103.60" stroke="#666" stroke-width="0.75"/>
<text class="t" x="203.90" y="105.65" font-size="5.61" text-anchor="end" fill="#1e1e1e" textLength="9.92" lengthAdjust="spacingAndGlyphs">0.70</text>
<line x1="205.3" y1="87.67" x2="207.3" y2="87.67" stroke="#666" stroke-width="0.75"/>
<text class="t" x="203.90" y="89.72" font-size="5.61" text-anchor="end" fill="#1e1e1e" textLength="9.92" lengthAdjust="spacingAndGlyphs">0.75</text>
<line x1="205.3" y1="71.75" x2="207.3" y2="71.75" stroke="#666" stroke-width="0.75"/>
<text class="t" x="203.90" y="73.80" font-size="5.61" text-anchor="end" fill="#1e1e1e" textLength="9.92" lengthAdjust="spacingAndGlyphs">0.80</text>
<line x1="205.3" y1="55.82" x2="207.3" y2="55.82" stroke="#666" stroke-width="0.75"/>
<text class="t" x="203.90" y="57.87" font-size="5.61" text-anchor="end" fill="#1e1e1e" textLength="9.92" lengthAdjust="spacingAndGlyphs">0.85</text>
<line x1="205.3" y1="39.90" x2="207.3" y2="39.90" stroke="#666" stroke-width="0.75"/>
<text class="t" x="203.90" y="41.95" font-size="5.61" text-anchor="end" fill="#1e1e1e" textLength="9.92" lengthAdjust="spacingAndGlyphs">0.90</text>
<line x1="205.3" y1="23.97" x2="207.3" y2="23.97" stroke="#666" stroke-width="0.75"/>
<text class="t" x="203.90" y="26.02" font-size="5.61" text-anchor="end" fill="#1e1e1e" textLength="9.92" lengthAdjust="spacingAndGlyphs">0.95</text>
<text class="t" x="285.00" y="7.40" font-size="6.8" text-anchor="middle" fill="#1e1e1e" textLength="43.20" lengthAdjust="spacingAndGlyphs">Model Accuracy</text>
<text class="t" x="285.00" y="130.60" font-size="5.61" text-anchor="middle" fill="#1e1e1e" textLength="13.20" lengthAdjust="spacingAndGlyphs">epoch</text>
<text class="t" x="191.00" y="63.40" font-size="5.61" text-anchor="middle" fill="#1e1e1e" textLength="20.60" lengthAdjust="spacingAndGlyphs" transform="rotate(-90 191.00 63.40)">accuracy</text>
<rect x="333.1" y="97.3" width="27.5" height="16.200000000000003" rx="1" fill="#fff" fill-opacity="0.85" stroke="#d6d6d6" stroke-width="0.6"/>
<line x1="334.2" y1="101.4" x2="344.1" y2="101.4" stroke="#1f77b4" stroke-width="0.9" stroke-opacity="0.85"/>
<line x1="334.2" y1="108.5" x2="344.1" y2="108.5" stroke="#ff7f0e" stroke-width="0.9" stroke-opacity="0.8"/>
<text class="t" x="348.00" y="103.70" font-size="5.6" text-anchor="start" fill="#1e1e1e" textLength="10.60" lengthAdjust="spacingAndGlyphs">train</text>
<text class="t" x="348.00" y="110.80" font-size="5.6" text-anchor="start" fill="#1e1e1e" textLength="8.40" lengthAdjust="spacingAndGlyphs">test</text>
<clipPath id="clc"><rect x="386.0" y="10.2" width="155.5" height="105.8"/></clipPath>
<g clip-path="url(#clc)">
<polyline points="393.40,110.21 393.54,103.93 393.68,99.04 393.82,94.96 393.90,90.63 393.96,86.16 394.10,76.86 394.25,69.20 394.39,60.95 394.53,56.32 394.60,50.22 394.67,50.99 394.81,49.11 394.95,49.37 395.09,50.75 395.23,46.35 395.37,46.09 395.51,44.33 395.65,46.80 395.80,42.08 395.94,40.93 396.00,39.95 396.08,39.86 396.22,43.90 396.36,48.41 396.50,40.51 396.64,44.68 396.78,43.06 396.92,40.03 397.06,41.74 397.20,41.75 397.35,40.67 397.49,46.27 397.63,37.87 397.77,42.73 397.91,42.53 398.05,40.48 398.10,42.02 398.19,43.49 398.33,41.79 398.47,42.20 398.61,42.65 398.75,36.66 398.90,44.03 399.04,45.58 399.18,42.66 399.32,42.58 399.46,37.28 399.60,39.87 399.74,38.26 399.88,38.59 400.02,41.73 400.10,37.90 400.16,39.30 400.30,35.51 400.44,39.15 400.59,39.63 400.73,37.91 400.87,37.84 401.01,43.24 401.15,36.72 401.29,37.01 401.43,37.47 401.57,41.60 401.71,43.43 401.85,39.70 401.99,37.48 402.14,38.04 402.20,41.10 402.28,36.86 402.42,41.46 402.56,41.10 402.70,38.05 402.84,38.95 402.98,38.87 403.12,40.24 403.26,34.62 403.40,38.90 403.54,35.45 403.60,34.54 403.69,36.13 403.83,35.20 403.97,33.34 404.11,31.82 404.25,32.86 404.39,37.41 404.53,38.15 404.67,35.21 404.81,36.00 404.95,32.29 405.09,32.88 405.24,33.31 405.38,30.30 405.52,30.19 405.60,32.19 405.66,31.34 405.80,29.80 405.94,32.63 406.08,31.29 406.22,33.77 406.36,31.68 406.50,31.05 406.64,31.83 406.79,31.19 406.93,30.16 407.07,30.62 407.21,32.83 407.35,32.57 407.49,33.76 407.63,27.89 407.77,30.37 407.91,30.27 408.05,31.35 408.19,30.09 408.34,29.91 408.48,32.36 408.62,31.14 408.76,28.49 408.90,33.25 409.04,32.54 409.10,29.50 409.18,32.18 409.32,29.15 409.46,32.69 409.60,30.10 409.74,28.96 409.89,29.75 410.03,28.98 410.17,30.78 410.31,30.72 410.45,30.43 410.59,29.28 410.73,23.39 410.87,30.46 411.01,26.69 411.15,30.70 411.29,32.34 411.44,30.70 411.58,29.43 411.72,29.80 411.86,29.86 412.00,29.06 412.14,28.97 412.28,28.31 412.42,32.23 412.50,29.97 412.56,31.77 412.70,29.49 412.84,30.06 412.99,29.58 413.13,30.73 413.27,31.38 413.41,30.26 413.55,28.54 413.69,28.32 413.83,32.80 413.97,29.18 414.11,29.14 414.25,32.34 414.39,31.62 414.53,30.57 414.68,28.82 414.82,33.85 414.96,30.22 415.10,30.47 415.24,29.13 415.38,26.83 415.52,26.95 415.66,30.10 415.80,30.04 415.94,28.86 416.08,27.14 416.23,26.62 416.37,28.62 416.51,26.55 416.65,30.79 416.79,31.22 416.93,34.21 417.07,30.66 417.21,27.97 417.35,27.44 417.49,22.77 417.63,27.89 417.78,28.61 417.92,30.64 418.06,29.97 418.20,29.90 418.34,29.20 418.48,29.97 418.62,31.34 418.76,26.83 418.90,27.89 419.04,26.20 419.18,31.52 419.33,30.92 419.40,29.94 419.47,26.46 419.61,28.86 419.75,28.11 419.89,28.64 420.03,28.14 420.17,29.36 420.31,27.72 420.45,29.89 420.59,28.78 420.73,27.81 420.88,28.10 421.02,27.50 421.16,29.67 421.30,27.74 421.44,28.70 421.58,27.47 421.72,25.54 421.86,29.68 422.00,26.23 422.14,29.22 422.28,28.74 422.43,25.11 422.57,26.32 422.71,27.04 422.85,26.48 422.99,25.83 423.13,29.12 423.27,27.40 423.41,28.45 423.55,27.02 423.69,28.25 423.83,26.41 423.98,27.63 424.12,28.64 424.26,27.69 424.40,26.81 424.54,25.70 424.68,27.81 424.82,28.09 424.96,27.03 425.10,26.14 425.24,28.34 425.38,31.59 425.53,26.85 425.67,27.90 425.81,27.94 425.95,22.94 426.09,27.45 426.23,26.02 426.30,29.53 426.37,26.76 426.51,25.85 426.65,26.76 426.79,27.38 426.93,26.13 427.08,26.95 427.22,24.75 427.36,26.61 427.50,28.25 427.64,30.21 427.78,28.07 427.92,27.32 428.06,28.81 428.20,28.50 428.34,29.54 428.48,28.55 428.62,26.53 428.77,27.13 428.91,26.97 429.05,27.14 429.19,26.94 429.33,25.30 429.47,23.11 429.61,25.43 429.75,23.18 429.89,26.58 430.03,26.45 430.17,23.68 430.32,27.51 430.46,27.77 430.60,26.48 430.74,29.01 430.88,29.31 431.02,24.29 431.16,27.89 431.30,26.90 431.44,26.83 431.58,27.63 431.72,24.94 431.87,25.12 432.01,24.71 432.15,24.80 432.29,25.83 432.43,23.63 432.57,24.26 432.71,26.82 432.85,25.76 432.99,26.45 433.13,22.81 433.20,24.55 433.27,24.90 433.42,25.81 433.56,24.80 433.70,27.18 433.84,25.58 433.98,25.67 434.12,25.63 434.26,26.70 434.40,24.81 434.54,27.29 434.68,26.22 434.82,25.71 434.97,25.50 435.11,26.22 435.25,26.97 435.39,26.83 435.53,25.91 435.67,26.66 435.81,25.45 435.95,27.18 436.09,25.16 436.23,21.96 436.37,27.22 436.52,25.28 436.66,23.28 436.80,24.75 436.94,23.67 437.08,28.23 437.22,25.74 437.36,22.54 437.50,25.75 437.64,24.27 437.78,27.79 437.92,23.22 438.07,21.37 438.21,24.87 438.35,24.21 438.49,24.08 438.63,21.43 438.77,25.30 438.91,27.16 439.05,21.71 439.19,26.34 439.33,23.68 439.47,28.05 439.62,25.14 439.76,24.17 439.90,26.08 440.00,25.19 440.04,23.50 440.18,25.43 440.32,23.57 440.46,21.63 440.60,27.33 440.74,23.73 440.88,23.31 441.02,24.70 441.17,21.83 441.31,22.11 441.45,23.36 441.59,23.30 441.73,24.16 441.87,25.71 442.01,23.29 442.15,24.71 442.29,24.84 442.43,22.29 442.57,24.23 442.71,22.44 442.86,25.42 443.00,24.48 443.14,23.80 443.28,21.73 443.42,23.89 443.56,22.54 443.70,24.72 443.84,23.45 443.98,22.38 444.12,24.96 444.26,24.63 444.41,22.63 444.55,25.23 444.69,23.01 444.83,22.97 444.97,23.59 445.00,22.27 445.11,22.71 445.25,23.09 445.39,25.59 445.53,25.51 445.67,22.83 445.81,25.60 445.96,23.08 446.10,23.68 446.24,24.40 446.38,23.47 446.52,26.62 446.66,23.32 446.80,21.12 446.94,24.84 447.08,22.23 447.22,22.35 447.36,18.28 447.51,24.23 447.65,23.92 447.79,23.86 447.93,24.09 448.07,25.12 448.21,22.47 448.35,23.91 448.49,21.35 448.63,21.90 448.77,23.98 448.91,22.94 449.06,20.32 449.20,22.82 449.34,21.97 449.48,20.98 449.50,22.85 449.62,21.58 449.76,19.82 449.90,20.50 450.04,24.81 450.18,19.87 450.32,22.46 450.46,23.03 450.61,23.06 450.75,20.25 450.89,21.60 451.03,22.28 451.17,23.26 451.31,21.08 451.45,20.29 451.59,23.52 451.73,23.66 451.87,22.55 452.01,21.07 452.16,22.58 452.30,22.12 452.44,23.20 452.58,20.06 452.72,22.09 452.86,21.67 453.00,20.23 453.14,22.21 453.28,21.92 453.42,21.24 453.56,22.44 453.71,19.71 453.85,21.74 453.99,22.46 454.13,22.22 454.27,23.40 454.41,19.97 454.55,19.50 454.69,22.11 454.83,22.42 454.97,24.90 455.11,22.64 455.26,20.39 455.40,22.90 455.54,20.41 455.68,19.43 455.82,25.56 455.96,22.13 456.10,22.70 456.24,22.46 456.38,24.32 456.40,22.03 456.52,23.42 456.66,20.04 456.80,19.48 456.95,23.69 457.09,23.75 457.23,22.29 457.37,21.85 457.51,21.75 457.65,20.46 457.79,23.79 457.93,22.45 458.07,22.21 458.21,22.00 458.35,23.00 458.50,22.17 458.64,22.52 458.78,19.64 458.92,22.14 459.06,24.65 459.20,20.58 459.34,21.15 459.48,22.67 459.62,22.75 459.76,22.24 459.90,18.86 460.05,22.03 460.19,19.49 460.33,20.02 460.47,22.06 460.61,20.78 460.75,22.43 460.89,25.93 461.03,22.36 461.17,22.26 461.31,19.82 461.45,20.19 461.60,19.55 461.74,20.33 461.88,19.48 462.02,20.11 462.16,20.78 462.30,19.58 462.44,18.94 462.58,19.01 462.72,21.72 462.86,21.12 463.00,22.56 463.15,22.57 463.20,20.49 463.29,22.00 463.43,18.82 463.57,24.39 463.71,22.75 463.85,20.62 463.99,19.19 464.13,21.49 464.27,18.11 464.41,19.73 464.55,22.01 464.70,20.99 464.84,20.13 464.98,22.28 465.12,19.28 465.26,21.26 465.40,20.07 465.54,19.54 465.68,21.49 465.82,19.30 465.96,23.63 466.10,19.88 466.25,23.74 466.39,19.10 466.53,21.64 466.67,18.92 466.81,18.69 466.95,20.93 467.09,21.70 467.23,18.76 467.37,22.43 467.51,19.45 467.65,20.83 467.80,21.19 467.94,21.50 468.08,17.90 468.22,23.02 468.36,21.42 468.50,19.93 468.64,19.02 468.78,18.00 468.92,18.49 469.06,21.34 469.20,20.00 469.30,18.80 469.35,19.71 469.49,22.84 469.63,20.00 469.77,19.61 469.91,22.51 470.05,21.18 470.19,20.55 470.33,19.57 470.47,18.15 470.61,18.72 470.75,19.75 470.89,20.14 471.04,21.00 471.18,21.29 471.32,20.79 471.46,20.79 471.60,18.94 471.74,17.22 471.88,19.67 472.02,19.02 472.16,19.46 472.30,20.03 472.44,18.57 472.59,18.77 472.73,20.28 472.87,20.60 473.01,19.44 473.15,21.17 473.29,20.09 473.43,18.89 473.57,20.48 473.71,23.24 473.85,19.40 473.99,22.16 474.14,22.47 474.28,22.65 474.42,19.17 474.56,23.42 474.70,20.57 474.84,20.01 474.98,20.04 475.12,21.29 475.26,20.46 475.40,20.11 475.54,22.30 475.69,19.29 475.83,18.81 475.97,21.56 476.11,21.42 476.25,22.00 476.39,18.75 476.53,21.98 476.67,21.08 476.81,23.00 476.95,18.48 477.09,20.67 477.24,19.93 477.38,17.96 477.52,19.27 477.66,22.03 477.80,19.63 477.94,19.25 478.08,21.63 478.22,21.81 478.36,21.80 478.50,19.13 478.64,20.23 478.79,21.86 478.93,19.33 479.07,19.18 479.21,21.55 479.35,22.65 479.49,18.57 479.50,16.40 479.63,18.12 479.77,18.78 479.91,20.09 480.05,21.22 480.19,20.08 480.34,19.24 480.48,20.52 480.62,18.85 480.76,20.22 480.90,19.33 481.04,24.31 481.18,21.51 481.32,19.04 481.46,18.79 481.60,19.63 481.74,17.82 481.89,19.19 482.03,19.18 482.17,21.61 482.31,19.64 482.45,19.09 482.59,18.27 482.73,18.51 482.87,20.18 483.01,19.95 483.15,21.98 483.29,19.33 483.44,21.86 483.58,20.66 483.72,20.26 483.86,17.26 484.00,18.33 484.14,21.38 484.28,22.36 484.42,20.58 484.56,21.41 484.70,19.65 484.84,19.71 484.98,19.27 485.13,21.72 485.27,20.77 485.41,19.91 485.55,19.77 485.69,21.09 485.83,20.74 485.97,19.01 486.11,22.83 486.25,20.64 486.39,20.27 486.53,22.47 486.68,21.79 486.82,20.12 486.96,21.05 487.10,18.64 487.24,19.29 487.38,16.86 487.52,22.08 487.66,17.40 487.80,21.27 487.94,19.00 488.08,18.77 488.23,19.95 488.37,20.64 488.51,21.16 488.65,22.89 488.79,20.77 488.93,21.56 489.07,19.34 489.21,21.30 489.35,20.46 489.49,19.54 489.63,20.09 489.78,20.14 489.92,20.52 490.06,20.83 490.20,19.46 490.34,19.11 490.48,21.35 490.62,17.68 490.76,19.30 490.90,22.55 491.04,16.16 491.18,19.18 491.33,21.25 491.47,17.74 491.61,24.11 491.75,16.33 491.89,22.37 492.03,22.55 492.17,21.59 492.31,19.88 492.45,20.75 492.59,18.86 492.73,21.42 492.88,18.53 493.02,19.80 493.16,21.70 493.30,18.53 493.44,19.66 493.58,20.45 493.72,18.19 493.86,21.95 494.00,20.71 494.10,17.93 494.14,20.13 494.28,19.03 494.43,19.21 494.57,20.31 494.71,19.13 494.85,21.64 494.99,19.13 495.13,21.66 495.27,20.12 495.41,21.47 495.55,19.37 495.69,19.42 495.83,18.45 495.98,21.04 496.12,21.58 496.26,23.35 496.40,22.10 496.54,20.54 496.68,19.85 496.82,20.75 496.96,20.12 497.10,22.35 497.24,21.57 497.38,18.90 497.53,19.12 497.67,22.20 497.81,20.61 497.95,19.80 498.09,21.92 498.23,19.56 498.37,19.72 498.51,19.45 498.65,17.19 498.79,21.43 498.93,18.32 499.07,19.28 499.22,19.01 499.36,21.22 499.50,20.02 499.64,20.15 499.78,17.60 499.92,19.99 500.06,17.90 500.20,20.58 500.34,20.66 500.48,20.09 500.62,23.17 500.77,20.90 500.91,21.00 501.05,20.32 501.19,19.81 501.33,21.55 501.47,21.75 501.61,18.14 501.75,21.68 501.89,20.86 502.03,21.53 502.17,20.79 502.32,18.22 502.46,18.33 502.60,22.82 502.74,20.46 502.88,17.95 503.02,20.60 503.16,19.53 503.30,17.31 503.44,16.64 503.58,17.67 503.72,20.47 503.87,19.99 504.01,19.69 504.15,20.49 504.29,20.96 504.43,16.90 504.57,19.60 504.71,18.81 504.85,18.20 504.99,19.23 505.13,19.86 505.27,19.65 505.42,17.86 505.56,19.32 505.70,23.06 505.84,18.46 505.98,17.51 506.12,20.45 506.26,20.93 506.40,20.73 506.54,18.35 506.68,21.52 506.82,18.85 506.97,18.32 507.11,19.11 507.25,19.86 507.39,21.09 507.53,20.95 507.67,19.98 507.81,21.41 507.95,20.13 508.09,21.35 508.23,17.90 508.37,17.64 508.52,21.16 508.60,17.91 508.66,19.55 508.80,19.85 508.94,19.27 509.08,19.32 509.22,22.08 509.36,16.20 509.50,21.32 509.64,23.44 509.78,20.03 509.92,19.96 510.07,21.08 510.21,22.73 510.35,18.21 510.49,20.12 510.63,19.71 510.77,20.82 510.91,20.22 511.05,20.97 511.19,19.35 511.33,20.05 511.47,18.97 511.62,18.98 511.76,19.77 511.90,19.76 512.04,18.22 512.18,22.33 512.32,19.77 512.46,17.90 512.60,21.62 512.74,18.85 512.88,20.73 513.02,19.94 513.16,20.34 513.31,20.22 513.45,19.10 513.59,20.03 513.73,23.01 513.87,16.61 514.01,20.06 514.15,20.61 514.29,18.38 514.43,17.90 514.57,23.20 514.71,19.40 514.86,23.08 515.00,20.76 515.14,20.07 515.28,20.67 515.42,20.91 515.56,21.72 515.70,20.61 515.84,20.17 515.98,20.21 516.12,21.98 516.26,21.17 516.41,18.44 516.55,18.99 516.69,20.44 516.83,19.01 516.97,19.38 517.11,18.51 517.25,19.55 517.39,20.58 517.53,21.43 517.67,19.95 517.81,23.05 517.96,19.82 518.10,24.73 518.24,21.44 518.38,20.68 518.52,19.18 518.66,15.69 518.80,19.70 518.94,20.20 519.08,22.81 519.22,17.86 519.36,22.79 519.51,19.55 519.65,21.01 519.79,16.11 519.93,20.13 520.07,19.41 520.21,20.94 520.35,20.06 520.49,18.21 520.63,21.34 520.77,20.96 520.91,20.81 521.06,21.43 521.20,21.57 521.34,19.88 521.48,17.88 521.62,17.83 521.76,21.93 521.90,20.97 522.04,20.06 522.18,19.25 522.32,19.95 522.46,19.94 522.61,19.40 522.75,18.85 522.89,23.15 523.03,20.24 523.17,18.99 523.20,17.95 523.31,18.81 523.45,20.97 523.59,21.02 523.73,19.55 523.87,19.95 524.01,19.41 524.16,18.20 524.30,21.81 524.44,20.41 524.58,23.56 524.72,18.71 524.86,19.63 525.00,21.16 525.14,19.46 525.28,17.74 525.42,18.40 525.56,19.97 525.71,20.32 525.85,19.66 525.99,21.30 526.13,21.28 526.27,20.27 526.41,19.82 526.55,19.40 526.69,20.60 526.83,21.15 526.97,19.85 527.11,20.43 527.25,19.27 527.40,17.63 527.54,18.24 527.68,20.89 527.82,20.40 527.96,22.11 528.10,19.81 528.24,21.02 528.38,21.70 528.52,21.20 528.66,18.79 528.80,19.42 528.95,19.89 529.09,18.21 529.23,20.39 529.37,21.21 529.51,18.95 529.65,22.63 529.79,19.23 529.93,19.35 530.07,19.29 530.21,18.58 530.35,20.27 530.50,19.67 530.64,22.12 530.78,20.54 530.92,20.43 531.06,19.28 531.20,17.49 531.34,19.47 531.48,18.33 531.62,21.02 531.76,19.55 531.90,22.08 532.05,20.68 532.19,20.83 532.33,19.92 532.47,19.88 532.61,20.54 532.75,20.94 532.89,18.48 533.03,20.28 533.17,23.47 533.31,19.40 533.45,19.15 533.60,18.49 533.74,17.35 533.88,21.30 534.02,19.60 534.16,19.95 534.30,22.27" fill="none" stroke="#1f77b4" stroke-width="1.05" stroke-linejoin="round" stroke-opacity="1"/>
<polyline points="393.30,110.10 393.44,95.70 393.45,95.21 393.58,77.52 393.60,75.08 393.72,68.43 393.86,60.70 394.00,53.38 394.15,45.55 394.20,42.57 394.29,41.71 394.43,39.94 394.57,38.16 394.71,36.45 394.85,35.04 394.90,34.20 394.99,33.79 395.13,33.19 395.27,32.84 395.42,32.25 395.56,32.03 395.70,31.62 395.84,30.71 395.98,30.67 396.00,30.73 396.12,30.52 396.26,30.16 396.40,30.47 396.54,29.94 396.68,29.70 396.82,29.59 396.97,29.67 397.11,29.73 397.25,29.63 397.39,29.30 397.53,28.89 397.67,28.86 397.81,28.67 397.95,28.68 398.09,28.23 398.24,28.47 398.38,28.44 398.52,28.14 398.66,28.13 398.80,27.71 398.80,27.61 398.94,27.70 399.08,27.99 399.22,27.89 399.36,27.52 399.50,27.78 399.64,27.40 399.79,27.70 399.93,27.42 400.07,27.16 400.21,27.34 400.35,26.95 400.49,26.85 400.63,26.67 400.77,26.94 400.91,26.81 401.06,26.73 401.20,26.59 401.34,26.89 401.48,26.44 401.62,26.31 401.76,26.63 401.90,26.60 402.04,26.31 402.18,25.82 402.32,25.98 402.47,26.15 402.61,25.95 402.75,26.19 402.89,25.53 402.90,25.94 403.03,25.59 403.17,25.89 403.31,25.51 403.45,25.64 403.59,25.21 403.73,24.97 403.88,24.94 404.02,24.94 404.16,24.77 404.30,25.12 404.44,25.05 404.58,24.75 404.72,24.39 404.86,24.48 405.00,24.28 405.14,24.61 405.29,24.29 405.43,24.23 405.57,23.96 405.71,23.55 405.85,23.70 405.99,23.54 406.13,23.75 406.27,23.60 406.41,23.33 406.55,23.32 406.69,23.61 406.84,23.02 406.98,22.93 407.00,23.05 407.12,22.98 407.26,23.05 407.40,23.26 407.54,23.52 407.68,22.83 407.82,23.20 407.96,23.23 408.11,23.22 408.25,23.22 408.39,23.21 408.53,23.50 408.67,23.22 408.81,23.30 408.95,23.35 409.09,23.39 409.23,23.35 409.37,23.60 409.51,23.42 409.66,23.47 409.80,23.45 409.94,23.27 410.08,23.33 410.22,23.30 410.36,23.57 410.50,23.40 410.64,23.35 410.78,23.63 410.93,23.70 411.07,23.27 411.21,23.97 411.35,23.66 411.49,23.65 411.63,23.90 411.77,23.72 411.91,23.60 412.05,24.18 412.19,23.55 412.33,23.76 412.48,23.97 412.50,23.59 412.62,23.76 412.76,23.82 412.90,24.20 413.04,23.51 413.18,23.65 413.32,23.76 413.46,23.62 413.60,23.34 413.75,23.63 413.89,23.54 414.03,23.58 414.17,23.69 414.31,23.64 414.45,23.49 414.59,23.44 414.73,23.13 414.87,23.29 415.01,23.33 415.15,23.18 415.30,23.25 415.44,23.04 415.58,23.48 415.72,23.58 415.86,23.04 416.00,23.17 416.14,23.01 416.28,23.29 416.42,23.09 416.56,22.99 416.71,22.90 416.85,22.94 416.99,22.69 417.13,23.00 417.27,22.69 417.41,22.91 417.55,22.80 417.69,22.97 417.83,22.71 417.98,22.89 418.12,22.48 418.26,22.75 418.40,22.56 418.54,22.61 418.68,22.56 418.82,22.70 418.96,22.08 419.10,22.52 419.24,22.13 419.38,22.64 419.40,22.01 419.53,22.17 419.67,22.01 419.81,22.65 419.95,22.03 420.09,22.28 420.23,22.12 420.37,21.84 420.51,22.11 420.65,22.28 420.80,22.08 420.94,22.28 421.08,21.99 421.22,22.03 421.36,21.93 421.50,22.04 421.64,22.33 421.78,21.99 421.92,21.93 422.06,21.74 422.20,21.68 422.35,22.10 422.49,21.55 422.63,21.56 422.77,21.70 422.91,21.60 423.05,22.05 423.19,21.16 423.33,21.67 423.47,21.72 423.62,21.32 423.76,21.39 423.90,21.57 424.04,21.78 424.18,21.25 424.32,21.09 424.46,21.57 424.60,21.65 424.74,21.25 424.88,20.84 425.02,21.55 425.17,21.19 425.31,21.43 425.45,21.16 425.59,21.07 425.73,21.03 425.87,21.38 426.01,21.35 426.15,20.60 426.29,20.81 426.30,21.36 426.44,20.89 426.58,20.66 426.72,20.90 426.86,20.84 427.00,20.81 427.14,20.69 427.28,20.69 427.42,20.63 427.56,20.75 427.70,20.49 427.84,20.56 427.99,20.55 428.13,20.80 428.27,20.58 428.41,20.45 428.55,20.54 428.69,20.48 428.83,20.58 428.97,20.43 429.10,20.66 429.11,20.56 429.25,20.24 429.40,20.12 429.54,20.33 429.68,20.21 429.82,20.04 429.96,19.71 430.10,19.59 430.24,19.98 430.38,20.02 430.52,19.97 430.66,19.51 430.81,19.92 430.95,19.56 431.09,19.70 431.23,19.66 431.37,19.36 431.51,19.36 431.65,19.01 431.79,19.20 431.93,18.97 432.07,19.37 432.22,19.25 432.36,19.37 432.50,19.21 432.64,18.96 432.78,19.11 432.92,18.92 433.06,19.07 433.20,18.96 433.20,18.70 433.34,18.87 433.49,18.86 433.63,18.76 433.77,18.97 433.91,19.11 434.05,18.66 434.19,18.64 434.33,18.23 434.47,18.63 434.61,18.54 434.75,18.17 434.89,18.63 435.04,18.67 435.18,18.38 435.32,18.42 435.46,18.27 435.60,18.59 435.74,18.11 435.88,18.32 436.02,18.75 436.16,18.34 436.31,18.40 436.45,18.25 436.59,18.02 436.73,18.22 436.87,18.28 437.01,17.97 437.15,18.21 437.29,18.37 437.43,18.30 437.57,17.75 437.71,17.84 437.86,17.69 438.00,18.20 438.14,18.08 438.28,18.07 438.42,17.73 438.56,17.64 438.70,17.86 438.84,17.84 438.98,17.62 439.12,17.80 439.27,17.87 439.41,17.76 439.55,17.48 439.69,17.24 439.83,17.58 439.97,17.64 440.00,17.55 440.11,17.51 440.25,17.45 440.39,17.73 440.53,17.57 440.68,17.60 440.82,17.38 440.96,17.45 441.10,17.60 441.24,17.36 441.38,17.30 441.52,17.49 441.66,17.79 441.80,17.58 441.94,17.83 442.09,17.51 442.23,17.47 442.37,17.25 442.51,17.41 442.65,17.80 442.79,17.58 442.93,17.65 443.07,17.64 443.21,17.50 443.36,17.45 443.50,17.51 443.64,17.62 443.78,17.57 443.92,17.57 444.06,17.50 444.20,17.31 444.34,17.41 444.48,17.27 444.62,17.65 444.76,17.03 444.91,17.40 445.05,17.92 445.19,17.37 445.33,17.20 445.47,17.42 445.61,17.68 445.75,17.39 445.89,17.54 446.03,17.43 446.17,17.33 446.32,18.03 446.46,17.41 446.60,17.28 446.74,17.29 446.88,17.46 447.02,17.46 447.16,17.53 447.30,17.40 447.44,17.08 447.58,17.47 447.73,17.29 447.87,17.29 448.01,17.05 448.15,17.23 448.29,17.19 448.43,17.33 448.57,17.04 448.71,17.33 448.85,17.35 449.00,17.09 449.14,17.19 449.28,17.14 449.42,17.48 449.50,16.79 449.56,17.23 449.70,16.96 449.84,17.20 449.98,17.45 450.12,17.15 450.26,17.30 450.40,17.09 450.55,17.64 450.69,17.43 450.83,17.47 450.97,16.97 451.11,17.01 451.25,17.44 451.39,17.18 451.53,17.16 451.67,17.28 451.81,16.95 451.96,17.35 452.10,17.20 452.24,17.28 452.38,17.05 452.52,17.28 452.66,17.03 452.80,17.35 452.94,17.38 453.08,17.33 453.22,17.25 453.37,17.27 453.51,16.59 453.65,17.29 453.79,17.07 453.93,17.13 454.07,17.05 454.21,16.83 454.35,16.99 454.49,17.22 454.63,17.37 454.78,16.96 454.92,16.89 455.06,17.36 455.20,16.89 455.34,17.47 455.48,17.06 455.62,16.87 455.76,17.24 455.90,17.37 456.04,16.74 456.19,17.33 456.33,16.96 456.47,17.31 456.61,16.93 456.75,16.68 456.89,17.09 457.03,17.17 457.17,17.40 457.31,17.32 457.45,17.11 457.60,16.92 457.74,16.85 457.88,16.89 458.02,16.78 458.16,16.88 458.30,16.42 458.44,16.96 458.58,16.92 458.72,17.43 458.87,17.06 459.01,16.81 459.10,17.01 459.15,16.66 459.29,16.79 459.43,16.55 459.57,17.21 459.71,17.05 459.85,16.71 459.99,16.94 460.13,17.15 460.27,17.07 460.42,17.05 460.56,16.81 460.70,16.87 460.84,17.02 460.98,17.19 461.12,16.85 461.26,16.80 461.40,17.26 461.54,16.86 461.68,17.27 461.83,17.11 461.97,17.24 462.11,17.42 462.25,17.22 462.39,17.25 462.53,16.92 462.67,16.97 462.81,17.24 462.95,17.43 463.09,17.41 463.24,17.60 463.38,17.21 463.52,17.20 463.66,17.37 463.80,17.18 463.94,17.17 464.08,16.98 464.22,17.40 464.36,16.99 464.50,17.32 464.65,16.94 464.79,17.45 464.93,17.03 465.07,17.41 465.21,16.94 465.35,17.17 465.49,17.51 465.63,17.12 465.77,17.30 465.91,17.20 466.00,16.84 466.06,17.36 466.20,17.38 466.34,17.07 466.48,17.40 466.62,17.12 466.76,17.07 466.90,17.27 467.04,17.13 467.18,17.71 467.32,16.94 467.47,17.39 467.61,17.44 467.75,16.84 467.89,16.88 468.03,17.34 468.17,17.12 468.31,17.29 468.45,17.44 468.59,17.13 468.73,16.99 468.88,16.65 469.02,17.23 469.16,17.00 469.30,17.24 469.44,17.22 469.58,16.89 469.72,17.51 469.86,17.37 470.00,17.32 470.14,16.91 470.29,17.06 470.43,17.03 470.57,17.05 470.71,16.90 470.85,17.21 470.99,17.16 471.13,17.18 471.27,17.00 471.41,17.36 471.55,17.13 471.70,16.54 471.84,16.96 471.98,17.07 472.12,17.27 472.26,17.01 472.40,17.01 472.54,16.93 472.68,17.19 472.82,16.96 472.96,16.92 473.11,16.89 473.25,17.14 473.39,16.92 473.53,16.69 473.67,17.14 473.81,16.87 473.95,17.08 474.09,17.08 474.23,17.24 474.38,17.20 474.52,16.87 474.66,16.95 474.80,16.72 474.94,17.30 475.08,17.05 475.22,17.24 475.36,16.89 475.50,16.54 475.64,17.25 475.78,16.96 475.93,16.96 476.07,16.94 476.21,17.05 476.35,17.02 476.49,16.59 476.63,17.12 476.77,16.80 476.91,16.80 477.05,17.24 477.19,17.07 477.34,16.81 477.48,16.50 477.62,16.90 477.76,16.97 477.90,16.84 478.04,16.60 478.18,16.69 478.32,16.59 478.46,16.88 478.60,17.00 478.75,17.03 478.89,16.68 479.03,16.86 479.17,16.92 479.31,16.70 479.45,16.77 479.50,17.22 479.59,16.83 479.73,16.96 479.87,16.68 480.01,16.77 480.16,16.40 480.30,16.73 480.44,16.96 480.58,17.13 480.72,16.94 480.86,16.83 481.00,16.69 481.14,16.54 481.28,16.62 481.42,16.76 481.57,16.47 481.71,16.81 481.85,16.41 481.99,16.24 482.13,16.38 482.27,16.24 482.41,16.29 482.55,16.78 482.69,16.50 482.83,16.57 482.98,16.75 483.12,16.75 483.26,16.39 483.40,16.75 483.54,16.54 483.68,16.46 483.82,16.53 483.96,16.15 484.10,16.26 484.24,16.39 484.39,16.52 484.53,16.31 484.67,16.35 484.81,16.56 484.95,16.63 485.09,16.49 485.23,16.58 485.37,16.24 485.51,16.24 485.65,16.36 485.80,16.22 485.94,16.17 486.08,16.59 486.22,16.21 486.36,16.04 486.50,16.32 486.64,16.58 486.78,16.22 486.92,16.44 487.06,16.09 487.21,16.07 487.35,16.02 487.49,16.11 487.63,16.50 487.77,15.89 487.91,16.44 488.05,15.90 488.19,16.04 488.33,16.24 488.47,16.19 488.62,16.11 488.76,15.71 488.90,16.10 489.04,15.81 489.18,16.52 489.32,15.95 489.46,16.02 489.60,15.74 489.74,15.86 489.88,15.69 490.03,16.13 490.17,15.87 490.31,16.02 490.45,15.76 490.59,15.79 490.73,16.13 490.87,15.67 491.01,15.49 491.15,15.92 491.29,15.60 491.44,15.73 491.58,15.99 491.72,15.63 491.86,15.96 492.00,15.64 492.14,16.06 492.28,16.01 492.42,15.64 492.56,15.68 492.70,15.55 492.85,15.74 492.99,15.92 493.13,15.39 493.27,15.85 493.41,15.39 493.55,15.47 493.69,15.28 493.83,16.04 493.97,15.62 494.10,15.65 494.11,15.46 494.26,15.81 494.40,15.17 494.54,15.60 494.68,16.03 494.82,15.51 494.96,15.59 495.10,15.71 495.24,15.41 495.38,15.58 495.52,15.76 495.67,15.61 495.81,15.64 495.95,15.49 496.09,15.62 496.23,15.57 496.37,15.84 496.51,15.69 496.65,15.50 496.79,15.05 496.93,15.68 497.08,15.69 497.22,15.35 497.36,15.13 497.50,15.30 497.64,15.71 497.78,15.31 497.92,15.43 498.06,15.56 498.20,15.76 498.34,15.51 498.49,15.49 498.63,15.40 498.77,15.83 498.91,15.71 499.05,15.48 499.19,15.22 499.33,15.33 499.47,15.60 499.61,15.34 499.75,15.66 499.90,15.55 500.04,15.54 500.18,15.60 500.32,15.57 500.46,15.30 500.60,15.40 500.74,15.93 500.88,15.22 501.02,15.36 501.16,15.67 501.31,15.42 501.45,15.29 501.59,15.18 501.73,15.55 501.87,15.64 502.01,15.72 502.15,15.44 502.29,15.64 502.43,15.22 502.57,15.46 502.72,15.29 502.86,15.45 503.00,15.57 503.14,15.63 503.28,15.21 503.42,15.66 503.56,15.31 503.70,15.20 503.84,15.36 503.98,15.10 504.13,15.39 504.27,15.45 504.41,15.35 504.55,15.49 504.69,15.32 504.83,15.38 504.97,15.09 505.11,15.38 505.25,15.20 505.39,15.28 505.54,15.34 505.68,15.40 505.82,15.03 505.96,15.04 506.10,15.29 506.24,15.44 506.38,15.42 506.52,15.52 506.66,15.60 506.80,15.44 506.95,15.33 507.09,15.13 507.23,15.14 507.37,15.23 507.51,15.38 507.65,15.36 507.79,15.32 507.93,15.28 508.07,15.44 508.21,15.35 508.36,15.36 508.50,15.36 508.60,15.19 508.64,15.09 508.78,15.39 508.92,15.38 509.06,15.25 509.20,15.20 509.34,15.74 509.48,15.13 509.62,15.24 509.77,15.33 509.91,15.04 510.05,15.29 510.19,15.63 510.33,15.45 510.47,15.39 510.61,15.38 510.75,15.28 510.89,15.44 511.03,15.22 511.18,15.16 511.32,15.26 511.46,15.42 511.60,15.30 511.74,15.37 511.88,14.83 512.02,15.47 512.16,15.69 512.30,15.49 512.44,15.16 512.59,15.05 512.73,15.27 512.87,15.01 513.01,15.35 513.15,15.10 513.29,15.40 513.43,15.47 513.57,14.79 513.71,15.25 513.85,15.05 514.00,14.91 514.14,15.06 514.28,15.14 514.42,15.39 514.56,14.87 514.70,15.38 514.84,15.58 514.98,15.29 515.12,15.28 515.26,15.16 515.41,14.93 515.55,15.26 515.69,15.23 515.83,15.30 515.97,15.66 516.11,15.29 516.25,15.23 516.39,15.45 516.53,14.87 516.67,14.91 516.82,15.06 516.96,15.00 517.10,15.26 517.24,15.06 517.38,15.47 517.52,15.42 517.66,15.27 517.80,15.03 517.94,15.23 518.08,15.27 518.23,14.89 518.37,15.17 518.51,15.24 518.65,15.14 518.79,15.40 518.93,15.33 519.07,14.92 519.21,15.11 519.35,14.91 519.49,15.19 519.64,14.90 519.78,15.25 519.92,15.15 520.06,15.26 520.20,15.03 520.34,14.77 520.48,15.41 520.62,15.02 520.76,15.33 520.90,15.13 521.05,15.18 521.19,15.41 521.33,15.11 521.47,15.32 521.61,14.74 521.75,15.20 521.89,14.98 522.03,15.00 522.17,15.02 522.31,15.09 522.46,15.35 522.60,14.64 522.74,15.02 522.88,14.86 523.02,15.24 523.16,14.92 523.20,15.09 523.30,14.92 523.44,15.13 523.58,15.20 523.72,14.92 523.87,15.01 524.01,14.72 524.15,15.06 524.29,15.17 524.43,14.89 524.57,15.22 524.71,14.59 524.85,14.63 524.99,14.72 525.13,14.90 525.28,15.00 525.42,14.98 525.56,14.99 525.70,15.14 525.84,14.91 525.98,14.75 526.12,14.75 526.26,15.42 526.40,14.53 526.54,14.96 526.69,15.29 526.83,15.10 526.97,14.83 527.11,15.00 527.25,15.17 527.39,15.24 527.53,14.82 527.67,15.15 527.81,15.05 527.95,15.22 528.10,15.28 528.24,14.93 528.38,14.71 528.52,15.08 528.66,15.36 528.80,15.14 528.94,15.05 529.08,15.48 529.22,14.79 529.37,15.18 529.51,14.89 529.65,15.01 529.79,15.02 529.93,15.30 530.07,14.81 530.21,14.89 530.35,14.68 530.49,15.10 530.63,14.91 530.77,15.08 530.92,14.79 531.06,14.93 531.20,15.21 531.34,14.97 531.48,15.13 531.62,15.11 531.76,14.93 531.90,14.69 532.04,15.20 532.18,15.03 532.33,15.20 532.47,14.60 532.61,14.67 532.75,14.57 532.89,14.82 533.03,15.21 533.17,15.11 533.31,14.99 533.45,15.03 533.59,15.15 533.74,14.94 533.88,15.08 534.02,15.03 534.16,14.56 534.30,14.92" fill="none" stroke="#ff7f0e" stroke-width="0.95" stroke-linejoin="round" stroke-opacity="1"/>
</g>
<rect x="386.0" y="10.2" width="155.5" height="105.8" fill="none" stroke="#959595" stroke-width="1"/>
<line x1="393.40" y1="116.0" x2="393.40" y2="118.0" stroke="#666" stroke-width="0.75"/>
<text class="t" x="393.40" y="123.90" font-size="5.61" text-anchor="middle" fill="#1e1e1e" textLength="2.84" lengthAdjust="spacingAndGlyphs">0</text>
<line x1="421.60" y1="116.0" x2="421.60" y2="118.0" stroke="#666" stroke-width="0.75"/>
<text class="t" x="421.60" y="123.90" font-size="5.61" text-anchor="middle" fill="#1e1e1e" textLength="8.51" lengthAdjust="spacingAndGlyphs">200</text>
<line x1="449.80" y1="116.0" x2="449.80" y2="118.0" stroke="#666" stroke-width="0.75"/>
<text class="t" x="449.80" y="123.90" font-size="5.61" text-anchor="middle" fill="#1e1e1e" textLength="8.51" lengthAdjust="spacingAndGlyphs">400</text>
<line x1="478.00" y1="116.0" x2="478.00" y2="118.0" stroke="#666" stroke-width="0.75"/>
<text class="t" x="478.00" y="123.90" font-size="5.61" text-anchor="middle" fill="#1e1e1e" textLength="8.51" lengthAdjust="spacingAndGlyphs">600</text>
<line x1="506.20" y1="116.0" x2="506.20" y2="118.0" stroke="#666" stroke-width="0.75"/>
<text class="t" x="506.20" y="123.90" font-size="5.61" text-anchor="middle" fill="#1e1e1e" textLength="8.51" lengthAdjust="spacingAndGlyphs">800</text>
<line x1="534.40" y1="116.0" x2="534.40" y2="118.0" stroke="#666" stroke-width="0.75"/>
<text class="t" x="534.40" y="123.90" font-size="5.61" text-anchor="middle" fill="#1e1e1e" textLength="11.34" lengthAdjust="spacingAndGlyphs">1000</text>
<line x1="384.0" y1="106.80" x2="386.0" y2="106.80" stroke="#666" stroke-width="0.75"/>
<text class="t" x="382.60" y="108.85" font-size="5.61" text-anchor="end" fill="#1e1e1e" textLength="7.09" lengthAdjust="spacingAndGlyphs">0.5</text>
<line x1="384.0" y1="86.88" x2="386.0" y2="86.88" stroke="#666" stroke-width="0.75"/>
<text class="t" x="382.60" y="88.92" font-size="5.61" text-anchor="end" fill="#1e1e1e" textLength="7.09" lengthAdjust="spacingAndGlyphs">0.6</text>
<line x1="384.0" y1="66.95" x2="386.0" y2="66.95" stroke="#666" stroke-width="0.75"/>
<text class="t" x="382.60" y="69.00" font-size="5.61" text-anchor="end" fill="#1e1e1e" textLength="7.09" lengthAdjust="spacingAndGlyphs">0.7</text>
<line x1="384.0" y1="47.02" x2="386.0" y2="47.02" stroke="#666" stroke-width="0.75"/>
<text class="t" x="382.60" y="49.07" font-size="5.61" text-anchor="end" fill="#1e1e1e" textLength="7.09" lengthAdjust="spacingAndGlyphs">0.8</text>
<line x1="384.0" y1="27.10" x2="386.0" y2="27.10" stroke="#666" stroke-width="0.75"/>
<text class="t" x="382.60" y="29.15" font-size="5.61" text-anchor="end" fill="#1e1e1e" textLength="7.09" lengthAdjust="spacingAndGlyphs">0.9</text>
<text class="t" x="463.80" y="7.40" font-size="6.8" text-anchor="middle" fill="#1e1e1e" textLength="43.30" lengthAdjust="spacingAndGlyphs">Model Accuracy</text>
<text class="t" x="463.00" y="130.60" font-size="5.61" text-anchor="middle" fill="#1e1e1e" textLength="13.20" lengthAdjust="spacingAndGlyphs">epoch</text>
<text class="t" x="372.00" y="63.40" font-size="5.61" text-anchor="middle" fill="#1e1e1e" textLength="20.60" lengthAdjust="spacingAndGlyphs" transform="rotate(-90 372.00 63.40)">accuracy</text>
<rect x="511.8" y="97.3" width="27.499999999999943" height="16.200000000000003" rx="1" fill="#fff" fill-opacity="0.85" stroke="#d6d6d6" stroke-width="0.6"/>
<line x1="512.7" y1="101.4" x2="523.5" y2="101.4" stroke="#1f77b4" stroke-width="0.9" stroke-opacity="0.85"/>
<line x1="512.7" y1="108.5" x2="523.5" y2="108.5" stroke="#ff7f0e" stroke-width="0.9" stroke-opacity="0.8"/>
<text class="t" x="526.60" y="103.70" font-size="5.6" text-anchor="start" fill="#1e1e1e" textLength="10.60" lengthAdjust="spacingAndGlyphs">train</text>
<text class="t" x="526.60" y="110.80" font-size="5.6" text-anchor="start" fill="#1e1e1e" textLength="8.40" lengthAdjust="spacingAndGlyphs">test</text>
<clipPath id="cld"><rect x="21.3" y="192.1" width="160.0" height="108.79999999999998"/></clipPath>
<g clip-path="url(#cld)">
<polyline points="28.50,196.56 28.79,206.87 29.00,214.92 29.08,217.81 29.37,229.00 29.60,238.74 29.66,238.46 29.95,240.79 30.25,241.95 30.30,244.53 30.54,245.28 30.80,247.50 30.83,250.04 31.12,251.03 31.41,249.29 31.60,252.95 31.70,252.98 31.99,252.85 32.28,255.99 32.50,254.15 32.57,255.02 32.87,256.17 33.16,257.99 33.45,261.80 33.60,259.91 33.74,260.63 34.03,261.92 34.32,264.34 34.40,264.00 34.61,266.37 34.90,265.81 35.19,266.44 35.20,267.40 35.48,268.61 35.77,268.04 36.07,270.06 36.36,272.45 36.65,270.20 36.90,271.44 36.94,273.02 37.23,270.95 37.52,271.01 37.81,271.01 38.10,273.06 38.39,273.48 38.50,272.81 38.69,273.30 38.98,275.17 39.27,275.12 39.56,272.90 39.85,274.95 40.14,275.51 40.20,276.31 40.43,275.82 40.72,276.09 41.01,277.07 41.30,276.30 41.59,279.10 41.80,278.98 41.89,280.29 42.18,278.83 42.47,279.79 42.76,279.44 43.05,279.61 43.34,281.92 43.50,280.73 43.63,280.94 43.92,277.31 44.21,276.87 44.50,273.02 44.50,274.31 44.80,268.51 45.09,263.98 45.10,263.26 45.38,266.96 45.67,272.42 45.96,275.98 46.00,276.97 46.25,277.57 46.54,277.02 46.83,277.16 47.12,278.27 47.41,277.82 47.71,279.14 48.00,280.35 48.29,280.46 48.40,279.22 48.58,278.02 48.87,279.12 49.16,278.75 49.45,279.84 49.74,277.87 50.03,277.78 50.10,278.77 50.33,278.07 50.62,279.29 50.91,282.24 51.20,282.84 51.49,282.74 51.78,283.19 51.80,281.87 52.07,283.84 52.36,283.57 52.65,284.05 52.94,283.52 53.23,284.37 53.53,284.47 53.82,285.31 54.11,286.83 54.40,285.95 54.69,284.01 54.98,285.06 55.10,284.50 55.27,285.55 55.56,287.33 55.85,287.44 56.14,286.64 56.44,287.88 56.73,287.05 57.02,286.61 57.31,286.92 57.60,287.81 57.89,290.59 58.18,287.87 58.40,290.90 58.47,291.05 58.76,289.62 59.05,289.99 59.35,289.60 59.64,290.46 59.93,291.42 60.22,290.93 60.51,292.22 60.80,292.64 61.09,291.95 61.38,292.16 61.67,291.96 61.70,292.42 61.96,289.67 62.26,290.01 62.55,288.51 62.84,286.07 63.13,288.00 63.30,283.91 63.42,281.48 63.71,276.56 64.00,268.05 64.10,267.20 64.29,267.37 64.58,269.38 64.88,271.69 65.17,273.59 65.46,275.84 65.75,276.94 65.80,277.60 66.04,277.43 66.33,276.89 66.62,279.13 66.91,278.01 67.20,278.45 67.49,281.27 67.78,281.06 68.08,281.03 68.30,282.03 68.37,282.12 68.66,279.59 68.95,280.73 69.24,279.41 69.53,280.58 69.82,279.57 70.11,281.50 70.40,280.43 70.69,278.87 70.80,279.62 70.99,276.65 71.28,275.24 71.57,273.06 71.86,270.05 72.15,265.08 72.40,264.40 72.44,265.12 72.73,263.85 73.02,263.66 73.31,260.09 73.60,260.88 73.90,258.62 74.10,258.74 74.19,259.57 74.48,261.89 74.77,262.64 75.00,265.03 75.06,263.70 75.35,263.70 75.64,265.95 75.93,265.57 76.22,264.23 76.51,265.26 76.81,266.38 76.90,268.02 77.10,269.27 77.39,271.64 77.68,271.65 77.97,275.97 78.10,277.72 78.26,277.95 78.55,278.54 78.84,278.45 79.13,281.02 79.42,281.30 79.72,280.29 80.00,279.96 80.01,283.01 80.30,280.95 80.59,283.24 80.88,284.49 81.17,282.20 81.46,283.97 81.75,283.88 82.04,285.28 82.33,285.64 82.40,287.36 82.63,286.07 82.92,285.53 83.21,286.71 83.50,285.39 83.79,285.35 84.08,287.96 84.37,284.86 84.66,283.53 84.95,282.59 85.00,281.78 85.25,283.01 85.54,287.04 85.83,285.35 86.12,285.57 86.41,284.82 86.70,284.30 86.99,285.24 87.28,286.55 87.57,288.76 87.86,287.22 88.16,287.29 88.45,285.03 88.74,285.65 89.03,285.19 89.32,287.53 89.61,286.65 89.90,286.96 90.00,286.86 90.19,286.46 90.48,285.64 90.77,287.00 91.06,283.56 91.36,285.11 91.65,287.17 91.94,286.98 92.23,287.99 92.52,288.80 92.81,288.19 93.10,288.25 93.39,288.19 93.68,289.07 93.97,286.66 94.27,288.82 94.56,287.72 94.85,287.55 95.00,288.75 95.14,288.38 95.43,289.00 95.72,288.54 96.01,286.19 96.30,288.59 96.59,290.15 96.88,287.67 97.18,289.25 97.47,288.67 97.76,287.09 98.05,286.28 98.34,288.62 98.63,289.38 98.92,287.63 99.21,286.67 99.50,287.95 99.80,286.86 100.00,288.13 100.09,289.92 100.38,290.49 100.67,288.48 100.96,290.23 101.25,287.37 101.54,284.37 101.83,282.92 102.12,288.68 102.41,288.53 102.70,291.06 103.00,289.34 103.29,289.27 103.58,287.57 103.87,290.54 104.16,288.96 104.45,289.20 104.74,287.46 105.00,290.26 105.03,290.32 105.32,288.95 105.61,289.59 105.91,289.88 106.20,290.41 106.49,289.69 106.78,291.12 107.07,289.45 107.36,289.16 107.65,289.31 107.94,287.56 108.23,289.08 108.52,290.67 108.82,290.06 109.11,289.16 109.40,290.19 109.69,288.20 109.98,289.71 110.00,290.40 110.27,290.50 110.56,288.50 110.85,290.14 111.14,291.61 111.43,289.74 111.73,290.75 112.02,288.85 112.31,288.54 112.60,290.73 112.89,290.28 113.18,290.44 113.47,289.82 113.76,290.09 114.05,291.03 114.34,291.81 114.64,290.24 114.93,289.09 115.00,291.51 115.22,290.95 115.51,291.02 115.80,290.61 116.09,292.36 116.38,290.52 116.67,290.88 116.96,288.95 117.25,289.99 117.55,289.90 117.84,290.43 118.13,290.72 118.42,289.24 118.71,290.54 119.00,289.37 119.29,289.22 119.58,288.16 119.87,288.33 120.00,290.27 120.16,289.87 120.46,288.39 120.75,291.83 121.04,290.63 121.33,290.82 121.62,289.86 121.91,289.32 122.20,290.18 122.49,290.45 122.78,290.38 123.07,291.38 123.37,288.90 123.66,289.93 123.95,289.41 124.24,291.95 124.53,290.46 124.82,290.53 125.00,290.09 125.11,291.68 125.40,290.67 125.69,291.20 125.98,289.45 126.28,292.01 126.57,291.43 126.86,291.58 127.15,292.15 127.44,291.05 127.73,291.10 128.02,291.83 128.31,291.63 128.60,291.13 128.89,291.39 129.19,290.98 129.48,291.97 129.77,292.17 130.00,291.47 130.06,292.94 130.35,290.28 130.64,291.33 130.93,292.87 131.22,291.22 131.51,290.32 131.81,292.68 132.10,292.04 132.39,290.71 132.68,292.26 132.97,290.88 133.26,290.66 133.55,291.60 133.84,291.37 134.13,290.91 134.42,291.50 134.71,291.03 135.01,291.87 135.30,291.83 135.59,292.44 135.88,291.32 136.17,290.09 136.46,290.73 136.75,291.76 137.04,293.16 137.33,292.65 137.62,291.53 137.92,292.76 138.21,290.88 138.50,291.07 138.79,291.07 139.08,292.69 139.37,292.62 139.60,291.95 139.66,292.42 139.95,291.37 140.24,292.16 140.53,292.99 140.83,294.18 141.12,291.46 141.41,292.27 141.70,291.55 141.99,293.14 142.28,290.50 142.57,290.15 142.86,291.42 143.15,291.16 143.44,293.62 143.74,293.31 144.03,292.07 144.32,292.11 144.61,291.53 144.90,290.95 145.19,292.03 145.48,292.99 145.77,292.77 146.06,291.80 146.35,291.70 146.65,292.96 146.94,291.62 147.23,292.76 147.40,293.87 147.52,293.77 147.81,292.44 148.10,292.55 148.39,293.85 148.68,294.14 148.97,290.96 149.26,290.08 149.56,291.85 149.85,293.71 150.14,292.28 150.43,293.40 150.72,292.72 151.01,294.73 151.30,293.29 151.59,292.88 151.88,292.75 152.18,293.80 152.47,293.52 152.76,291.64 153.05,291.89 153.34,291.89 153.63,292.53 153.92,292.15 154.21,292.14 154.50,292.63 154.79,292.43 155.08,293.56 155.38,293.77 155.67,293.02 155.96,292.39 156.25,293.82 156.54,291.76 156.83,291.84 157.12,293.81 157.41,293.77 157.70,294.02 158.00,293.16 158.29,292.41 158.58,292.98 158.87,293.78 158.90,292.81 159.16,292.83 159.45,292.29 159.74,291.98 160.03,292.87 160.32,293.43 160.61,292.38 160.91,292.42 161.20,292.77 161.49,293.55 161.78,292.28 162.07,292.99 162.36,291.53 162.65,292.15 162.94,293.34 163.23,293.66 163.52,292.15 163.80,292.41 163.81,293.54 164.11,292.68 164.40,292.56 164.69,293.32 164.98,293.07 165.27,293.72 165.56,293.49 165.85,292.49 166.14,292.81 166.43,292.85 166.72,291.91 167.02,292.18 167.31,293.56 167.60,291.72 167.89,293.55 168.18,292.65 168.47,290.40 168.76,291.11 169.05,292.86 169.34,293.37 169.63,291.47 169.93,290.71 170.22,291.75 170.50,294.07 170.51,293.42 170.80,292.21 171.09,292.72 171.38,292.55 171.67,293.11 171.96,292.48 172.25,293.52 172.54,291.98 172.84,294.18 173.13,292.95 173.42,291.92 173.71,293.56 174.00,293.52" fill="none" stroke="#1f77b4" stroke-width="1.05" stroke-linejoin="round" stroke-opacity="1"/>
<polyline points="28.50,282.50 28.79,277.04 29.08,270.60 29.37,265.74 29.40,264.67 29.66,258.54 29.90,252.14 29.95,251.98 30.25,249.32 30.50,247.44 30.54,246.78 30.83,244.61 31.12,243.52 31.40,241.83 31.41,242.46 31.70,238.79 31.80,239.18 31.99,239.23 32.20,237.28 32.28,236.38 32.50,233.92 32.57,234.54 32.87,237.15 32.90,239.07 33.16,249.27 33.20,250.78 33.45,254.61 33.74,259.32 33.80,259.57 34.03,260.37 34.32,261.99 34.61,262.27 34.70,263.81 34.90,263.73 35.19,264.40 35.20,266.11 35.48,267.70 35.77,268.91 36.07,269.79 36.36,270.22 36.65,273.18 36.90,272.45 36.94,273.58 37.23,273.10 37.52,272.70 37.81,275.05 38.10,272.30 38.39,273.90 38.50,275.02 38.69,274.95 38.98,276.66 39.27,276.86 39.56,277.44 39.85,280.31 40.14,279.34 40.20,279.56 40.43,279.45 40.72,280.45 41.01,282.26 41.30,282.94 41.59,283.26 41.80,283.25 41.89,284.39 42.18,282.88 42.47,284.20 42.76,284.55 43.05,284.40 43.34,285.44 43.50,284.99 43.63,283.90 43.92,283.65 44.21,280.68 44.50,278.87 44.50,277.96 44.80,274.65 45.09,270.54 45.10,270.68 45.38,276.09 45.67,278.98 45.96,284.12 46.00,284.55 46.25,282.44 46.54,284.43 46.83,285.91 47.12,286.81 47.41,286.39 47.60,287.91 47.71,288.05 48.00,286.94 48.29,288.36 48.58,288.69 48.87,287.88 49.16,286.97 49.45,288.80 49.74,287.75 50.03,287.71 50.10,288.08 50.33,287.84 50.62,289.25 50.91,289.32 51.20,289.91 51.49,289.75 51.78,289.08 52.07,289.80 52.36,290.79 52.65,290.20 52.94,292.74 53.23,290.88 53.40,290.80 53.53,292.02 53.82,291.85 54.11,291.42 54.40,291.39 54.69,291.92 54.98,292.29 55.27,292.34 55.56,291.74 55.85,292.32 56.14,292.69 56.44,292.73 56.73,290.31 57.02,291.85 57.31,292.02 57.60,292.48 57.89,292.84 58.18,293.42 58.40,293.30 58.47,292.83 58.76,292.99 59.05,294.15 59.35,292.69 59.64,293.33 59.93,294.19 60.22,293.47 60.51,292.02 60.80,293.60 61.09,293.18 61.38,293.41 61.67,294.19 61.96,293.89 62.26,293.49 62.50,294.25 62.55,293.43 62.84,289.92 63.13,286.73 63.30,284.75 63.42,282.65 63.71,278.36 64.00,274.44 64.10,272.42 64.29,273.68 64.58,277.39 64.88,278.63 65.00,279.69 65.17,279.87 65.46,280.39 65.75,280.82 66.04,281.28 66.33,281.20 66.62,282.66 66.91,282.13 67.20,283.58 67.49,282.28 67.78,283.22 68.08,284.84 68.30,284.51 68.37,284.28 68.66,285.18 68.95,284.67 69.24,285.61 69.53,284.61 69.82,285.91 70.11,286.10 70.40,287.07 70.69,287.56 70.99,286.89 71.28,288.57 71.57,287.64 71.60,286.86 71.86,281.82 72.15,278.54 72.40,272.95 72.44,271.72 72.73,265.08 73.02,258.31 73.20,255.64 73.31,256.01 73.60,259.96 73.90,261.82 74.19,263.60 74.20,265.45 74.48,267.23 74.77,269.85 75.00,272.84 75.06,272.08 75.35,273.90 75.64,274.35 75.93,275.02 76.22,276.75 76.50,277.19 76.51,278.18 76.81,278.82 77.10,279.12 77.39,280.18 77.68,280.94 77.97,281.28 78.00,281.96 78.26,281.81 78.55,282.72 78.84,282.41 79.13,283.42 79.42,284.06 79.72,283.94 80.00,284.59 80.01,284.55 80.30,285.62 80.59,285.35 80.88,286.38 81.17,287.37 81.46,287.23 81.75,286.71 82.04,288.02 82.33,288.92 82.40,288.36 82.63,289.13 82.92,288.99 83.21,289.00 83.50,288.77 83.79,288.75 84.08,288.98 84.37,289.24 84.66,289.58 84.95,289.63 85.25,289.38 85.54,289.67 85.83,289.93 86.12,289.05 86.41,289.58 86.70,289.67 86.99,290.06 87.28,290.13 87.40,290.18 87.57,289.90 87.86,290.68 88.16,290.53 88.45,289.63 88.74,290.46 89.03,289.95 89.32,291.34 89.61,290.34 89.90,290.40 90.19,290.66 90.48,290.56 90.77,290.66 91.06,291.46 91.36,290.86 91.65,291.18 91.94,291.36 92.23,290.39 92.52,291.69 92.81,291.24 93.10,291.40 93.39,290.58 93.60,291.39 93.68,291.20 93.97,290.76 94.27,292.08 94.56,291.27 94.85,290.90 95.14,291.10 95.43,291.43 95.72,291.54 96.01,291.28 96.30,291.58 96.59,291.69 96.88,290.44 97.18,290.78 97.47,290.57 97.76,291.05 98.05,291.68 98.34,291.31 98.63,290.53 98.92,290.87 99.21,291.48 99.50,290.77 99.80,290.96 99.80,291.15 100.09,289.72 100.38,290.45 100.67,289.79 100.96,289.44 101.25,288.27 101.54,287.91 101.70,287.74 101.83,288.42 102.12,288.98 102.41,289.65 102.70,291.05 103.00,291.48 103.29,291.21 103.50,291.71 103.58,292.78 103.87,291.88 104.16,292.64 104.45,292.75 104.74,291.79 105.03,291.92 105.32,292.09 105.61,291.67 105.91,291.63 106.20,291.89 106.49,292.46 106.78,291.89 107.07,292.00 107.36,291.89 107.65,291.50 107.94,292.76 108.23,291.09 108.52,291.84 108.82,292.38 109.11,291.53 109.40,292.41 109.69,292.70 109.98,291.78 110.27,292.26 110.56,291.69 110.85,292.40 111.14,292.22 111.43,292.28 111.73,292.79 112.02,292.41 112.20,292.79 112.31,292.49 112.60,291.71 112.89,292.35 113.18,292.47 113.47,291.65 113.76,292.85 114.05,292.33 114.34,292.47 114.64,291.94 114.93,292.37 115.22,292.48 115.51,292.23 115.80,292.42 116.09,291.50 116.38,292.99 116.67,291.95 116.96,291.52 117.25,292.05 117.55,292.12 117.84,292.71 118.13,292.11 118.42,292.63 118.71,292.12 119.00,293.46 119.29,292.78 119.58,293.38 119.87,292.16 120.16,292.87 120.46,292.21 120.75,292.86 121.04,292.91 121.33,291.99 121.62,292.20 121.91,292.20 122.20,292.07 122.49,292.41 122.78,292.33 123.07,292.14 123.37,292.79 123.66,292.98 123.95,292.24 124.24,292.56 124.53,292.81 124.60,292.71 124.82,292.54 125.11,293.16 125.40,293.20 125.69,293.15 125.98,292.81 126.28,293.70 126.57,293.62 126.86,292.78 127.15,292.91 127.44,293.45 127.73,292.68 128.02,293.17 128.31,293.05 128.60,292.77 128.89,292.97 129.19,292.46 129.48,292.89 129.77,292.33 130.06,294.03 130.35,293.74 130.64,293.65 130.93,293.31 131.22,293.60 131.51,293.72 131.81,293.64 132.10,293.61 132.39,292.92 132.68,293.46 132.97,293.10 133.26,292.87 133.55,292.90 133.84,293.53 134.13,293.79 134.42,292.87 134.50,294.07 134.71,293.98 135.01,293.29 135.30,293.28 135.59,293.45 135.88,293.87 136.17,293.37 136.46,293.11 136.75,293.68 137.04,292.79 137.33,293.65 137.62,294.05 137.92,293.75 138.21,293.94 138.50,293.86 138.79,293.96 139.08,293.76 139.37,293.42 139.66,293.67 139.95,293.74 140.24,294.26 140.53,294.41 140.83,293.98 141.12,293.57 141.41,293.60 141.70,293.82 141.99,294.42 142.28,294.05 142.57,293.93 142.86,293.68 143.15,294.31 143.44,294.11 143.74,294.01 144.03,294.08 144.32,294.68 144.61,294.02 144.90,294.71 145.19,294.57 145.48,294.16 145.77,294.48 146.06,294.14 146.35,293.90 146.65,294.12 146.94,293.92 147.23,294.44 147.52,294.28 147.81,294.50 148.10,294.61 148.39,293.23 148.68,294.47 148.97,293.74 149.26,294.46 149.30,294.09 149.56,294.52 149.85,295.07 150.14,294.09 150.43,294.86 150.72,294.86 151.01,294.33 151.30,295.32 151.59,295.20 151.88,295.11 152.18,295.14 152.20,296.51 152.47,295.28 152.76,294.82 153.05,295.14 153.34,295.36 153.63,295.37 153.92,295.50 154.21,295.19 154.50,295.76 154.79,295.43 155.08,295.15 155.38,295.36 155.67,295.53 155.96,295.97 156.25,295.87 156.54,295.61 156.83,295.75 157.12,295.84 157.41,296.47 157.70,295.60 158.00,295.99 158.29,296.10 158.58,295.56 158.87,295.96 158.90,295.95 159.16,295.73 159.45,296.06 159.74,296.20 160.03,296.21 160.32,295.76 160.61,295.87 160.91,296.57 161.20,295.42 161.49,295.84 161.78,296.04 162.07,295.79 162.36,295.93 162.65,295.76 162.94,295.94 163.23,296.09 163.52,295.59 163.81,295.71 164.11,295.61 164.40,295.49 164.69,295.60 164.98,295.23 165.27,295.81 165.56,296.10 165.85,296.08 166.14,295.93 166.43,295.21 166.72,295.98 167.02,295.26 167.31,295.45 167.60,296.03 167.89,295.10 168.18,295.68 168.47,295.49 168.60,295.35 168.76,295.14 169.05,295.57 169.34,295.33 169.63,295.82 169.93,295.90 170.22,295.12 170.51,295.42 170.80,295.51 171.09,295.27 171.38,295.32 171.67,295.71 171.96,295.65 172.25,295.24 172.54,295.60 172.84,295.95 173.13,295.46 173.42,295.57 173.71,296.35 174.00,296.30" fill="none" stroke="#ff7f0e" stroke-width="1.0" stroke-linejoin="round" stroke-opacity="1"/>
</g>
<rect x="21.3" y="192.1" width="160.0" height="108.79999999999998" fill="none" stroke="#959595" stroke-width="1"/>
<line x1="28.60" y1="300.9" x2="28.60" y2="302.9" stroke="#666" stroke-width="0.75"/>
<text class="t" x="28.60" y="309.60" font-size="5.61" text-anchor="middle" fill="#1e1e1e" textLength="2.84" lengthAdjust="spacingAndGlyphs">0</text>
<line x1="57.70" y1="300.9" x2="57.70" y2="302.9" stroke="#666" stroke-width="0.75"/>
<text class="t" x="57.70" y="309.60" font-size="5.61" text-anchor="middle" fill="#1e1e1e" textLength="8.51" lengthAdjust="spacingAndGlyphs">100</text>
<line x1="86.80" y1="300.9" x2="86.80" y2="302.9" stroke="#666" stroke-width="0.75"/>
<text class="t" x="86.80" y="309.60" font-size="5.61" text-anchor="middle" fill="#1e1e1e" textLength="8.51" lengthAdjust="spacingAndGlyphs">200</text>
<line x1="115.90" y1="300.9" x2="115.90" y2="302.9" stroke="#666" stroke-width="0.75"/>
<text class="t" x="115.90" y="309.60" font-size="5.61" text-anchor="middle" fill="#1e1e1e" textLength="8.51" lengthAdjust="spacingAndGlyphs">300</text>
<line x1="145.00" y1="300.9" x2="145.00" y2="302.9" stroke="#666" stroke-width="0.75"/>
<text class="t" x="145.00" y="309.60" font-size="5.61" text-anchor="middle" fill="#1e1e1e" textLength="8.51" lengthAdjust="spacingAndGlyphs">400</text>
<line x1="174.10" y1="300.9" x2="174.10" y2="302.9" stroke="#666" stroke-width="0.75"/>
<text class="t" x="174.10" y="309.60" font-size="5.61" text-anchor="middle" fill="#1e1e1e" textLength="8.51" lengthAdjust="spacingAndGlyphs">500</text>
<line x1="19.3" y1="286.80" x2="21.3" y2="286.80" stroke="#666" stroke-width="0.75"/>
<text class="t" x="18.40" y="288.85" font-size="5.61" text-anchor="end" fill="#1e1e1e" textLength="7.09" lengthAdjust="spacingAndGlyphs">0.5</text>
<line x1="19.3" y1="268.42" x2="21.3" y2="268.42" stroke="#666" stroke-width="0.75"/>
<text class="t" x="18.40" y="270.47" font-size="5.61" text-anchor="end" fill="#1e1e1e" textLength="7.09" lengthAdjust="spacingAndGlyphs">1.0</text>
<line x1="19.3" y1="250.04" x2="21.3" y2="250.04" stroke="#666" stroke-width="0.75"/>
<text class="t" x="18.40" y="252.09" font-size="5.61" text-anchor="end" fill="#1e1e1e" textLength="7.09" lengthAdjust="spacingAndGlyphs">1.5</text>
<line x1="19.3" y1="231.66" x2="21.3" y2="231.66" stroke="#666" stroke-width="0.75"/>
<text class="t" x="18.40" y="233.71" font-size="5.61" text-anchor="end" fill="#1e1e1e" textLength="7.09" lengthAdjust="spacingAndGlyphs">2.0</text>
<line x1="19.3" y1="213.28" x2="21.3" y2="213.28" stroke="#666" stroke-width="0.75"/>
<text class="t" x="18.40" y="215.33" font-size="5.61" text-anchor="end" fill="#1e1e1e" textLength="7.09" lengthAdjust="spacingAndGlyphs">2.5</text>
<line x1="19.3" y1="194.90" x2="21.3" y2="194.90" stroke="#666" stroke-width="0.75"/>
<text class="t" x="18.40" y="196.95" font-size="5.61" text-anchor="end" fill="#1e1e1e" textLength="7.09" lengthAdjust="spacingAndGlyphs">3.0</text>
<text class="t" x="101.30" y="189.30" font-size="6.8" text-anchor="middle" fill="#1e1e1e" textLength="31.10" lengthAdjust="spacingAndGlyphs">Model Loss</text>
<text class="t" x="101.00" y="316.60" font-size="5.61" text-anchor="middle" fill="#1e1e1e" textLength="13.20" lengthAdjust="spacingAndGlyphs">epoch</text>
<text class="t" x="7.60" y="248.00" font-size="5.61" text-anchor="middle" fill="#1e1e1e" textLength="9.20" lengthAdjust="spacingAndGlyphs" transform="rotate(-90 7.60 248.00)">loss</text>
<rect x="150.6" y="194.5" width="28.30000000000001" height="17.19999999999999" rx="1" fill="#fff" fill-opacity="0.85" stroke="#d6d6d6" stroke-width="0.6"/>
<line x1="151.9" y1="198.8" x2="162.1" y2="198.8" stroke="#1f77b4" stroke-width="0.9" stroke-opacity="0.85"/>
<line x1="151.9" y1="206.4" x2="162.1" y2="206.4" stroke="#ff7f0e" stroke-width="0.9" stroke-opacity="0.8"/>
<text class="t" x="165.80" y="201.10" font-size="5.6" text-anchor="start" fill="#1e1e1e" textLength="10.60" lengthAdjust="spacingAndGlyphs">train</text>
<text class="t" x="165.80" y="208.70" font-size="5.6" text-anchor="start" fill="#1e1e1e" textLength="8.40" lengthAdjust="spacingAndGlyphs">test</text>
<clipPath id="cle"><rect x="203.1" y="190.5" width="162.1" height="110.30000000000001"/></clipPath>
<g clip-path="url(#cle)">
<polyline points="210.40,232.79 210.50,249.57 210.69,262.73 210.70,262.62 210.99,268.89 211.10,271.15 211.28,273.38 211.58,275.37 211.60,275.73 211.87,277.03 212.16,278.88 212.30,278.94 212.46,278.82 212.75,280.51 213.05,281.45 213.34,281.93 213.50,282.37 213.63,282.86 213.93,283.58 214.22,283.53 214.52,284.09 214.81,284.23 215.10,284.47 215.40,284.62 215.69,285.54 215.99,285.68 216.28,286.10 216.50,286.91 216.57,286.76 216.87,287.12 217.16,286.25 217.46,287.37 217.75,287.07 218.04,287.17 218.34,287.35 218.63,288.41 218.93,288.44 219.22,287.99 219.51,288.01 219.81,288.68 220.00,288.61 220.10,289.52 220.40,288.35 220.69,288.32 220.98,289.06 221.28,289.28 221.57,289.44 221.87,289.79 222.16,290.42 222.45,289.58 222.75,289.61 223.04,289.25 223.34,290.13 223.63,290.47 223.92,290.16 224.22,290.81 224.51,290.48 224.81,291.07 225.10,290.29 225.39,288.96 225.69,288.95 225.98,289.59 226.28,290.32 226.57,291.32 226.86,291.66 227.00,292.09 227.16,291.41 227.45,291.41 227.75,291.17 228.04,291.95 228.33,291.81 228.63,291.53 228.92,292.03 229.22,292.04 229.51,291.29 229.80,292.22 230.10,292.08 230.39,291.97 230.69,292.02 230.98,292.78 231.27,292.77 231.57,292.92 231.86,292.04 232.16,292.25 232.45,292.80 232.74,292.21 233.04,292.42 233.33,292.15 233.63,293.32 233.92,293.12 234.21,292.81 234.51,291.95 234.80,291.08 234.80,291.08 235.10,292.22 235.39,292.76 235.68,293.58 235.98,293.19 236.27,293.17 236.57,293.86 236.86,293.54 237.15,293.81 237.45,293.63 237.74,293.22 238.00,294.05 238.04,293.55 238.33,294.23 238.62,293.58 238.92,293.55 239.21,294.15 239.51,294.22 239.80,294.18 240.09,293.90 240.39,294.46 240.68,293.92 240.98,294.21 241.27,294.17 241.56,294.31 241.86,294.66 242.15,294.33 242.45,294.68 242.74,294.75 243.03,294.19 243.33,294.37 243.62,294.61 243.92,294.60 244.21,294.86 244.50,294.35 244.80,295.05 245.00,295.09 245.09,294.86 245.39,294.58 245.68,294.95 245.97,294.83 246.27,295.13 246.56,294.99 246.86,295.21 247.15,294.94 247.44,295.43 247.74,294.52 248.03,294.86 248.33,295.26 248.62,294.77 248.91,295.21 249.21,293.92 249.50,292.60 249.80,291.95 250.09,293.64 250.38,295.00 250.68,295.24 250.97,295.22 251.27,295.88 251.56,295.36 251.85,295.14 252.15,295.63 252.44,295.62 252.74,295.61 253.03,294.97 253.32,293.13 253.62,294.13 253.91,295.38 254.21,295.51 254.50,295.63 254.79,294.83 255.00,295.46 255.09,296.05 255.38,295.15 255.68,295.47 255.97,295.67 256.26,295.74 256.56,296.01 256.85,295.16 257.15,295.61 257.44,295.81 257.73,295.27 258.03,295.59 258.32,296.07 258.62,295.93 258.91,295.73 259.20,294.95 259.50,295.57 259.79,295.70 260.09,295.52 260.38,295.58 260.67,296.37 260.97,295.55 261.26,295.36 261.56,295.66 261.85,295.52 262.14,295.52 262.44,295.58 262.73,295.79 263.03,295.66 263.32,295.30 263.61,295.57 263.91,295.72 264.20,295.48 264.50,295.89 264.79,295.79 265.08,295.35 265.38,295.68 265.67,296.10 265.97,295.99 266.26,295.59 266.55,295.82 266.85,295.43 267.14,295.24 267.44,295.74 267.73,295.66 268.02,295.73 268.32,295.59 268.61,295.68 268.91,295.47 269.20,295.72 269.49,295.81 269.79,295.59 270.00,295.80 270.08,294.97 270.38,294.56 270.67,294.46 270.96,293.88 271.26,292.84 271.55,292.10 271.85,291.15 272.14,290.90 272.43,290.34 272.50,289.63 272.73,289.04 273.02,287.61 273.32,286.18 273.61,284.38 273.90,283.38 274.10,281.93 274.20,283.60 274.49,286.06 274.79,288.53 275.08,291.95 275.37,294.69 275.50,295.44 275.67,296.15 275.96,295.35 276.26,295.68 276.55,295.86 276.84,294.70 277.14,294.38 277.43,292.85 277.73,293.42 278.02,294.59 278.30,295.56 278.31,295.22 278.61,295.35 278.90,295.49 279.20,295.29 279.49,295.99 279.78,295.27 280.08,295.41 280.37,295.52 280.67,295.60 280.96,295.80 281.25,295.80 281.55,295.52 281.84,295.50 282.14,295.61 282.43,295.81 282.72,295.77 283.02,295.47 283.31,295.09 283.61,296.14 283.90,295.84 284.19,295.67 284.49,295.69 284.78,295.47 285.08,295.35 285.37,295.52 285.66,295.54 285.96,295.44 286.00,295.24 286.25,294.11 286.55,292.69 286.84,290.77 287.00,290.01 287.13,287.99 287.43,285.17 287.72,281.92 288.02,278.36 288.30,275.07 288.31,275.73 288.60,279.22 288.90,283.35 289.19,286.92 289.49,290.97 289.50,290.92 289.78,291.91 290.07,293.62 290.37,294.91 290.50,295.76 290.66,295.49 290.96,295.50 291.25,295.81 291.54,295.89 291.84,295.79 292.13,295.86 292.43,295.71 292.72,295.79 293.01,295.82 293.31,295.70 293.60,295.62 293.90,295.64 294.19,296.20 294.48,295.60 294.78,295.54 295.07,295.51 295.37,295.59 295.66,295.66 295.95,295.32 296.25,295.10 296.54,295.67 296.84,295.20 297.13,295.66 297.42,295.64 297.72,295.89 298.01,296.02 298.31,295.69 298.60,295.46 298.89,295.31 299.19,295.40 299.48,295.61 299.78,295.08 300.07,295.62 300.36,295.60 300.66,295.76 300.95,295.52 301.25,295.63 301.54,295.42 301.83,295.48 302.13,295.16 302.42,295.63 302.72,295.99 303.01,295.64 303.30,295.69 303.60,295.35 303.89,295.96 304.19,295.41 304.48,295.80 304.77,295.63 305.07,295.36 305.36,295.86 305.66,295.60 305.95,295.64 306.24,295.71 306.54,295.59 306.83,295.50 307.13,295.69 307.42,295.21 307.71,294.27 308.01,292.75 308.30,292.94 308.60,294.60 308.89,295.35 309.18,295.60 309.48,295.90 309.77,295.18 310.00,295.63 310.07,293.09 310.36,284.66 310.60,277.67 310.65,278.84 310.95,287.66 311.20,295.64 311.24,295.62 311.54,295.57 311.83,295.40 312.12,296.14 312.42,295.56 312.71,295.38 313.01,296.02 313.30,295.75 313.59,295.51 313.89,295.90 314.18,295.64 314.48,295.76 314.77,295.62 315.06,294.96 315.36,294.27 315.65,292.87 315.95,293.27 316.24,294.75 316.53,295.75 316.83,295.50 317.12,295.61 317.42,295.76 317.71,295.63 318.00,295.22 318.30,295.76 318.59,295.83 318.89,295.82 319.18,296.00 319.47,295.69 319.77,295.79 320.06,296.00 320.36,295.53 320.65,296.03 320.94,296.03 321.24,295.80 321.53,296.06 321.83,295.81 322.12,295.36 322.41,295.61 322.71,294.37 323.00,293.03 323.30,293.32 323.59,295.08 323.88,295.60 324.18,295.42 324.47,295.72 324.77,295.78 325.06,295.42 325.35,295.49 325.65,295.50 325.94,295.45 326.24,295.69 326.53,295.85 326.82,296.07 327.12,295.90 327.41,295.86 327.71,295.89 328.00,295.93 328.29,295.51 328.59,295.77 328.88,295.67 329.18,295.37 329.47,294.37 329.76,293.29 329.80,293.33 330.06,292.44 330.20,292.88 330.35,293.62 330.65,294.88 330.70,295.21 330.94,288.13 331.23,277.88 331.30,276.30 331.53,274.80 331.82,274.34 332.12,274.87 332.40,278.88 332.41,275.23 332.70,278.56 333.00,280.47 333.29,279.18 333.30,281.47 333.59,281.99 333.88,281.31 334.10,283.07 334.17,281.32 334.47,280.45 334.76,282.39 334.90,281.62 335.06,281.03 335.35,281.69 335.64,286.17 335.70,283.22 335.94,284.44 336.23,284.57 336.53,286.25 336.60,286.05 336.82,286.09 337.11,285.53 337.41,285.62 337.70,286.62 338.00,288.02 338.20,290.11 338.29,289.20 338.58,290.59 338.88,289.74 339.17,289.71 339.47,288.98 339.76,290.95 339.90,288.97 340.05,291.23 340.35,293.87 340.64,293.14 340.70,294.10 340.94,291.78 341.23,289.83 341.50,289.92 341.52,290.03 341.82,291.99 342.11,293.08 342.41,290.56 342.70,291.25 342.99,291.77 343.20,291.76 343.29,290.71 343.58,291.62 343.88,291.44 344.17,291.00 344.46,288.92 344.76,289.58 344.80,287.85 345.05,291.48 345.35,290.59 345.64,292.43 345.70,292.47 345.93,291.61 346.23,290.21 346.50,288.64 346.52,292.24 346.82,291.56 347.11,292.37 347.40,295.02 347.70,293.62 347.99,295.09 348.10,294.85 348.29,295.90 348.58,295.26 348.87,295.10 349.17,294.77 349.46,295.06 349.76,295.35 350.05,294.46 350.34,294.97 350.64,294.92 350.93,294.98 351.23,294.58 351.52,295.29 351.81,294.92 352.11,295.08 352.40,294.82 352.70,293.62 352.99,292.67 353.28,292.59 353.58,294.20 353.87,295.09 354.17,295.32 354.46,295.37 354.75,295.35 355.05,295.94 355.34,295.54 355.64,295.15 355.93,295.33 356.22,295.34 356.52,295.49 356.81,295.41 357.11,295.37 357.40,296.02" fill="none" stroke="#1f77b4" stroke-width="1.1" stroke-linejoin="round" stroke-opacity="1"/>
<polyline points="210.40,195.52 210.50,224.94 210.69,232.72 210.70,232.96 210.99,238.25 211.10,240.00 211.28,241.14 211.58,241.93 211.87,244.25 212.00,245.12 212.16,247.33 212.46,250.58 212.75,253.87 212.80,254.92 213.05,257.21 213.34,259.98 213.60,262.88 213.63,263.43 213.93,265.30 214.22,267.04 214.40,267.80 214.52,269.16 214.81,270.05 215.10,271.90 215.30,272.72 215.40,273.87 215.69,275.50 215.99,277.39 216.10,277.93 216.28,278.28 216.57,278.95 216.87,279.16 216.90,279.81 217.16,278.15 217.46,276.05 217.70,274.61 217.75,275.50 218.04,280.63 218.20,282.99 218.34,283.20 218.63,283.69 218.93,284.10 219.22,284.88 219.51,285.62 219.81,286.15 220.10,286.82 220.20,287.16 220.40,287.43 220.69,287.89 220.98,288.47 221.28,288.87 221.50,289.20 221.57,289.34 221.87,289.05 222.16,289.80 222.45,289.44 222.75,290.01 223.04,290.00 223.34,290.37 223.63,290.30 223.92,290.25 224.22,290.81 224.51,290.78 224.81,290.92 225.10,291.06 225.39,291.39 225.69,291.51 225.98,291.54 226.28,291.33 226.57,291.71 226.86,291.96 227.00,292.37 227.16,292.14 227.45,292.13 227.75,292.48 228.04,292.31 228.33,292.42 228.63,292.55 228.92,292.31 229.22,292.89 229.51,292.87 229.80,292.82 230.10,292.74 230.39,293.10 230.69,293.43 230.98,293.11 231.27,293.12 231.57,293.51 231.86,293.19 232.16,293.16 232.45,293.61 232.50,293.57 232.74,293.70 233.04,293.71 233.33,293.94 233.63,293.89 233.92,293.88 234.21,293.96 234.51,294.24 234.80,294.36 235.10,294.41 235.39,294.43 235.68,293.69 235.98,294.21 236.27,294.40 236.57,294.57 236.86,294.26 237.15,294.93 237.45,294.76 237.74,294.64 238.00,294.84 238.04,294.73 238.33,294.52 238.62,294.65 238.92,294.33 239.21,294.01 239.40,294.09 239.51,294.20 239.80,294.02 240.09,294.51 240.39,294.06 240.68,294.66 240.80,294.49 240.98,286.66 241.27,274.40 241.50,264.85 241.56,267.32 241.86,279.72 242.15,292.58 242.20,295.01 242.45,294.44 242.74,294.99 243.03,295.03 243.33,295.15 243.62,295.25 243.92,295.41 244.00,295.72 244.21,295.63 244.50,295.31 244.80,295.83 245.09,295.25 245.39,295.65 245.68,295.55 245.97,295.75 246.27,295.59 246.56,295.73 246.86,295.51 247.15,295.71 247.44,295.58 247.74,295.94 248.03,295.38 248.33,295.75 248.62,295.61 248.91,295.55 249.21,295.40 249.50,295.60 249.80,295.22 250.09,295.24 250.38,295.66 250.68,295.20 250.97,295.80 251.27,295.46 251.56,295.56 251.85,295.53 252.15,295.60 252.44,295.46 252.74,295.44 253.03,295.49 253.32,295.72 253.62,295.74 253.91,295.77 254.21,295.59 254.50,295.47 254.79,295.18 255.00,295.64 255.09,295.68 255.38,295.43 255.68,295.68 255.97,295.77 256.26,295.53 256.56,295.73 256.85,295.58 257.15,295.17 257.44,295.42 257.73,295.43 258.03,295.62 258.32,295.34 258.62,295.43 258.91,295.32 259.20,295.51 259.50,295.53 259.79,295.71 260.09,295.67 260.38,295.55 260.67,295.56 260.97,295.54 261.26,295.54 261.56,295.82 261.85,295.02 262.14,295.48 262.44,295.58 262.73,295.74 263.03,295.30 263.32,295.58 263.61,295.69 263.91,295.43 264.20,295.13 264.50,295.44 264.79,295.28 265.08,295.65 265.38,295.35 265.67,295.87 265.97,295.54 266.26,295.35 266.55,295.41 266.85,295.30 267.14,295.59 267.44,295.81 267.73,295.47 268.02,295.70 268.32,295.33 268.61,295.58 268.91,295.98 269.20,295.23 269.49,295.76 269.79,295.75 270.00,295.14 270.08,293.15 270.38,285.79 270.60,280.51 270.67,280.36 270.96,280.98 271.26,281.73 271.55,282.17 271.85,282.76 272.00,282.95 272.14,283.38 272.43,283.29 272.73,284.08 273.02,283.97 273.32,284.17 273.40,284.54 273.61,285.57 273.90,286.58 274.20,288.52 274.49,289.70 274.50,289.85 274.79,291.72 275.08,292.97 275.37,294.81 275.50,295.34 275.67,295.80 275.96,295.40 276.26,295.18 276.55,295.19 276.84,295.23 277.14,295.44 277.43,295.41 277.73,295.61 278.02,295.45 278.31,295.44 278.61,295.48 278.90,295.39 279.20,295.47 279.49,295.57 279.78,295.57 280.08,295.30 280.37,295.06 280.67,295.25 280.96,295.47 281.25,294.92 281.55,295.32 281.84,295.50 282.14,295.30 282.43,295.19 282.72,295.76 283.02,295.69 283.31,295.36 283.61,295.68 283.90,295.67 284.19,295.19 284.49,295.95 284.78,295.22 285.08,295.36 285.37,295.19 285.50,295.43 285.66,293.69 285.96,291.33 286.25,288.94 286.50,286.55 286.55,286.38 286.84,286.23 287.13,285.22 287.43,285.08 287.72,284.31 288.02,283.90 288.31,283.35 288.50,283.04 288.60,283.94 288.90,286.44 289.19,289.12 289.49,291.97 289.50,291.99 289.78,292.76 290.07,293.88 290.37,294.91 290.50,295.50 290.66,295.54 290.96,295.53 291.25,295.38 291.54,295.51 291.84,295.23 292.13,294.93 292.43,295.50 292.72,295.18 293.01,295.32 293.31,295.27 293.60,295.63 293.90,295.27 294.19,295.56 294.48,295.41 294.78,295.26 295.07,295.19 295.37,295.60 295.66,295.58 295.95,295.66 296.25,295.87 296.54,295.56 296.84,295.56 297.13,295.48 297.42,295.53 297.72,295.43 298.01,295.33 298.31,295.90 298.60,295.13 298.89,295.55 299.19,295.59 299.48,295.53 299.78,295.31 300.07,295.46 300.36,295.41 300.66,295.29 300.95,295.49 301.25,295.42 301.54,295.39 301.83,295.64 302.13,295.29 302.42,295.59 302.72,295.38 303.01,295.59 303.30,295.51 303.60,295.55 303.89,295.30 304.19,295.35 304.48,295.33 304.77,295.53 305.07,295.65 305.36,295.71 305.66,295.40 305.95,295.52 306.24,295.18 306.54,295.06 306.83,295.33 307.13,295.37 307.42,295.19 307.71,295.14 308.01,295.60 308.30,295.34 308.60,295.16 308.89,295.96 309.18,295.53 309.48,295.43 309.50,295.63 309.77,294.48 310.07,294.01 310.36,292.45 310.60,291.74 310.65,292.18 310.95,293.20 311.24,294.77 311.50,295.18 311.54,295.35 311.83,295.54 312.12,295.61 312.42,295.69 312.71,295.56 313.01,295.93 313.30,295.40 313.59,295.53 313.89,295.66 314.18,295.43 314.48,295.44 314.77,295.40 315.06,295.36 315.36,295.27 315.65,295.38 315.95,295.18 316.24,295.57 316.53,295.18 316.83,295.90 317.12,295.83 317.42,295.71 317.71,295.45 318.00,295.37 318.30,295.74 318.59,295.53 318.89,295.60 319.18,295.35 319.47,295.70 319.77,295.33 320.06,295.51 320.36,295.15 320.65,295.36 320.94,295.59 321.24,295.40 321.53,295.40 321.83,295.65 322.12,295.48 322.41,295.74 322.71,295.01 323.00,295.60 323.30,295.59 323.59,295.18 323.88,295.23 324.18,295.66 324.47,295.28 324.77,295.36 325.06,295.61 325.35,295.42 325.65,295.58 325.94,295.32 326.24,295.55 326.53,295.71 326.82,295.55 327.12,295.05 327.41,295.62 327.71,295.50 328.00,295.31 328.29,295.77 328.59,295.14 328.88,295.86 329.18,295.36 329.47,295.80 329.76,295.48 330.06,295.22 330.30,295.51 330.35,290.90 330.65,264.60 330.80,250.90 330.94,254.85 331.23,264.28 331.53,273.55 331.60,275.36 331.82,275.67 332.12,276.51 332.40,278.41 332.41,278.46 332.70,278.05 333.00,278.31 333.29,280.38 333.30,278.76 333.59,280.19 333.88,280.07 334.17,279.96 334.47,281.49 334.76,281.75 334.90,282.90 335.06,283.68 335.35,282.86 335.64,284.14 335.94,284.74 336.23,284.44 336.53,284.83 336.60,286.37 336.82,285.59 337.11,286.23 337.41,286.52 337.70,287.05 338.00,287.23 338.20,288.28 338.29,288.69 338.58,288.23 338.88,288.11 339.17,289.33 339.47,288.93 339.76,289.82 339.90,291.03 340.05,291.78 340.35,291.05 340.64,290.59 340.94,291.88 341.23,290.60 341.50,291.71 341.52,292.88 341.82,292.61 342.11,291.65 342.41,291.65 342.70,293.09 342.99,292.77 343.29,292.64 343.58,293.29 343.88,292.93 344.17,292.40 344.46,293.91 344.76,293.33 344.80,293.17 345.05,293.10 345.35,293.95 345.64,293.61 345.93,294.25 346.23,294.03 346.52,294.50 346.82,294.21 347.11,294.26 347.40,294.09 347.70,294.35 347.99,294.80 348.10,295.30 348.29,294.46 348.58,294.52 348.87,294.82 349.17,294.88 349.46,294.67 349.76,294.85 350.05,294.54 350.34,294.82 350.64,295.09 350.93,295.26 351.23,294.92 351.52,294.93 351.81,295.10 352.11,295.25 352.40,295.16 352.70,294.93 352.99,295.18 353.28,295.33 353.58,295.02 353.87,294.92 354.17,295.31 354.46,295.31 354.75,295.45 355.05,295.30 355.34,295.18 355.64,295.25 355.93,295.16 356.22,295.20 356.52,295.30 356.81,295.34 357.11,295.69 357.40,295.25" fill="none" stroke="#ff7f0e" stroke-width="0.95" stroke-linejoin="round" stroke-opacity="1"/>
</g>
<rect x="203.1" y="190.5" width="162.1" height="110.30000000000001" fill="none" stroke="#959595" stroke-width="1"/>
<line x1="210.50" y1="300.8" x2="210.50" y2="302.8" stroke="#666" stroke-width="0.75"/>
<text class="t" x="210.50" y="309.20" font-size="5.61" text-anchor="middle" fill="#1e1e1e" textLength="2.84" lengthAdjust="spacingAndGlyphs">0</text>
<line x1="239.90" y1="300.8" x2="239.90" y2="302.8" stroke="#666" stroke-width="0.75"/>
<text class="t" x="239.90" y="309.20" font-size="5.61" text-anchor="middle" fill="#1e1e1e" textLength="8.51" lengthAdjust="spacingAndGlyphs">100</text>
<line x1="269.30" y1="300.8" x2="269.30" y2="302.8" stroke="#666" stroke-width="0.75"/>
<text class="t" x="269.30" y="309.20" font-size="5.61" text-anchor="middle" fill="#1e1e1e" textLength="8.51" lengthAdjust="spacingAndGlyphs">200</text>
<line x1="298.70" y1="300.8" x2="298.70" y2="302.8" stroke="#666" stroke-width="0.75"/>
<text class="t" x="298.70" y="309.20" font-size="5.61" text-anchor="middle" fill="#1e1e1e" textLength="8.51" lengthAdjust="spacingAndGlyphs">300</text>
<line x1="328.10" y1="300.8" x2="328.10" y2="302.8" stroke="#666" stroke-width="0.75"/>
<text class="t" x="328.10" y="309.20" font-size="5.61" text-anchor="middle" fill="#1e1e1e" textLength="8.51" lengthAdjust="spacingAndGlyphs">400</text>
<line x1="357.50" y1="300.8" x2="357.50" y2="302.8" stroke="#666" stroke-width="0.75"/>
<text class="t" x="357.50" y="309.20" font-size="5.61" text-anchor="middle" fill="#1e1e1e" textLength="8.51" lengthAdjust="spacingAndGlyphs">500</text>
<line x1="201.1" y1="292.60" x2="203.1" y2="292.60" stroke="#666" stroke-width="0.75"/>
<text class="t" x="199.30" y="294.65" font-size="5.61" text-anchor="end" fill="#1e1e1e" textLength="7.09" lengthAdjust="spacingAndGlyphs">0.4</text>
<line x1="201.1" y1="275.88" x2="203.1" y2="275.88" stroke="#666" stroke-width="0.75"/>
<text class="t" x="199.30" y="277.93" font-size="5.61" text-anchor="end" fill="#1e1e1e" textLength="7.09" lengthAdjust="spacingAndGlyphs">0.6</text>
<line x1="201.1" y1="259.16" x2="203.1" y2="259.16" stroke="#666" stroke-width="0.75"/>
<text class="t" x="199.30" y="261.21" font-size="5.61" text-anchor="end" fill="#1e1e1e" textLength="7.09" lengthAdjust="spacingAndGlyphs">0.8</text>
<line x1="201.1" y1="242.44" x2="203.1" y2="242.44" stroke="#666" stroke-width="0.75"/>
<text class="t" x="199.30" y="244.49" font-size="5.61" text-anchor="end" fill="#1e1e1e" textLength="7.09" lengthAdjust="spacingAndGlyphs">1.0</text>
<line x1="201.1" y1="225.72" x2="203.1" y2="225.72" stroke="#666" stroke-width="0.75"/>
<text class="t" x="199.30" y="227.77" font-size="5.61" text-anchor="end" fill="#1e1e1e" textLength="7.09" lengthAdjust="spacingAndGlyphs">1.2</text>
<line x1="201.1" y1="209.00" x2="203.1" y2="209.00" stroke="#666" stroke-width="0.75"/>
<text class="t" x="199.30" y="211.05" font-size="5.61" text-anchor="end" fill="#1e1e1e" textLength="7.09" lengthAdjust="spacingAndGlyphs">1.4</text>
<line x1="201.1" y1="192.28" x2="203.1" y2="192.28" stroke="#666" stroke-width="0.75"/>
<text class="t" x="199.30" y="194.33" font-size="5.61" text-anchor="end" fill="#1e1e1e" textLength="7.09" lengthAdjust="spacingAndGlyphs">1.6</text>
<text class="t" x="283.90" y="187.70" font-size="6.8" text-anchor="middle" fill="#1e1e1e" textLength="31.60" lengthAdjust="spacingAndGlyphs">Model Loss</text>
<text class="t" x="283.50" y="316.40" font-size="5.61" text-anchor="middle" fill="#1e1e1e" textLength="13.20" lengthAdjust="spacingAndGlyphs">epoch</text>
<text class="t" x="189.60" y="247.00" font-size="5.61" text-anchor="middle" fill="#1e1e1e" textLength="9.20" lengthAdjust="spacingAndGlyphs" transform="rotate(-90 189.60 247.00)">loss</text>
<rect x="334.1" y="193.3" width="28.5" height="16.5" rx="1" fill="#fff" fill-opacity="0.85" stroke="#d6d6d6" stroke-width="0.6"/>
<line x1="335.3" y1="197.4" x2="345.7" y2="197.4" stroke="#1f77b4" stroke-width="0.9" stroke-opacity="0.85"/>
<line x1="335.3" y1="204.9" x2="345.7" y2="204.9" stroke="#ff7f0e" stroke-width="0.9" stroke-opacity="0.8"/>
<text class="t" x="349.00" y="199.70" font-size="5.6" text-anchor="start" fill="#1e1e1e" textLength="10.60" lengthAdjust="spacingAndGlyphs">train</text>
<text class="t" x="349.00" y="207.20" font-size="5.6" text-anchor="start" fill="#1e1e1e" textLength="8.40" lengthAdjust="spacingAndGlyphs">test</text>
<clipPath id="clf"><rect x="388.3" y="190.4" width="157.2" height="106.99999999999997"/></clipPath>
<g clip-path="url(#clf)">
<polyline points="395.50,195.15 395.64,203.15 395.79,212.56 395.80,212.72 395.93,215.93 396.07,220.68 396.21,224.19 396.30,226.22 396.36,228.77 396.50,230.87 396.64,234.44 396.78,236.69 396.80,236.65 396.93,237.18 397.07,237.22 397.21,240.26 397.36,240.84 397.50,242.76 397.64,243.22 397.70,242.92 397.78,243.12 397.93,246.28 398.07,248.10 398.21,247.10 398.35,249.10 398.50,251.35 398.64,249.52 398.70,250.60 398.78,249.76 398.92,253.05 399.07,252.16 399.21,251.52 399.35,250.26 399.50,252.49 399.64,254.32 399.78,252.94 399.92,253.07 400.07,254.76 400.21,252.61 400.35,254.59 400.49,255.61 400.60,254.03 400.64,254.00 400.78,255.56 400.92,255.25 401.07,255.22 401.21,255.95 401.35,256.12 401.49,254.76 401.64,255.24 401.78,256.86 401.92,257.89 402.06,258.35 402.21,255.60 402.35,258.30 402.49,258.01 402.63,257.12 402.78,257.95 402.92,258.55 403.06,259.97 403.21,256.35 403.35,258.69 403.49,257.86 403.50,257.78 403.63,259.71 403.78,259.43 403.92,257.14 404.06,258.25 404.20,259.08 404.35,257.04 404.49,260.22 404.63,259.12 404.78,259.58 404.92,259.96 405.06,262.07 405.20,259.85 405.35,259.47 405.49,262.42 405.63,259.57 405.77,259.69 405.92,258.68 406.06,262.13 406.20,261.20 406.35,261.61 406.49,261.35 406.63,261.09 406.77,260.36 406.92,260.51 407.06,262.29 407.20,262.02 407.34,264.20 407.40,261.03 407.49,261.45 407.63,260.80 407.77,264.11 407.91,260.65 408.06,263.43 408.20,264.41 408.34,262.34 408.49,263.59 408.63,259.79 408.77,262.22 408.91,260.56 409.06,263.12 409.20,262.97 409.34,261.99 409.48,264.39 409.63,263.66 409.77,262.53 409.91,262.62 410.06,261.38 410.20,263.21 410.34,266.43 410.48,262.63 410.63,264.25 410.77,263.00 410.91,264.92 411.05,264.50 411.20,263.64 411.34,261.58 411.48,263.40 411.63,265.83 411.77,263.91 411.91,265.19 412.05,263.73 412.20,261.89 412.34,265.12 412.48,265.05 412.62,263.88 412.77,264.24 412.91,265.22 413.05,264.07 413.19,265.44 413.20,264.68 413.34,261.74 413.48,264.87 413.62,264.30 413.77,264.01 413.91,265.79 414.05,264.61 414.19,266.09 414.34,266.92 414.48,265.65 414.62,263.34 414.76,264.53 414.91,266.89 415.05,265.30 415.19,264.59 415.34,265.65 415.48,266.53 415.62,266.24 415.76,266.84 415.91,264.83 416.05,265.66 416.19,265.74 416.33,266.12 416.48,263.25 416.62,265.92 416.76,264.42 416.91,268.33 417.05,268.62 417.19,268.85 417.33,267.67 417.48,265.89 417.62,268.00 417.76,266.41 417.90,267.61 418.05,265.52 418.19,266.02 418.33,267.57 418.47,269.48 418.62,266.98 418.76,270.28 418.90,271.05 419.05,265.35 419.19,267.19 419.33,265.92 419.47,267.14 419.62,266.63 419.76,267.35 419.90,268.88 420.04,268.90 420.19,267.98 420.33,267.67 420.47,267.89 420.62,267.95 420.76,268.65 420.90,267.88 420.90,268.60 421.04,266.06 421.19,269.12 421.33,270.54 421.47,268.36 421.61,266.12 421.76,270.14 421.90,267.78 422.04,264.03 422.18,268.05 422.33,269.28 422.47,269.02 422.61,270.30 422.76,269.47 422.90,268.81 423.04,265.86 423.18,267.15 423.33,269.05 423.47,269.82 423.61,267.43 423.75,268.08 423.90,269.68 424.04,266.33 424.18,266.33 424.33,268.84 424.47,269.59 424.61,268.59 424.75,266.05 424.90,269.42 425.04,267.54 425.18,270.43 425.32,269.40 425.47,269.98 425.61,270.57 425.75,268.96 425.90,270.95 426.04,271.60 426.18,270.44 426.32,271.83 426.47,269.08 426.61,271.34 426.75,270.47 426.89,268.73 427.04,270.08 427.18,269.49 427.32,269.51 427.46,270.48 427.61,271.93 427.75,270.01 427.89,270.70 428.04,268.47 428.18,270.78 428.32,272.33 428.46,271.89 428.60,271.46 428.61,270.03 428.75,269.46 428.89,270.79 429.03,269.08 429.18,269.30 429.32,272.48 429.46,269.89 429.61,273.83 429.75,269.30 429.89,272.02 430.03,269.81 430.18,271.80 430.32,270.13 430.46,271.74 430.60,271.53 430.75,271.18 430.89,272.62 431.03,274.11 431.18,271.19 431.32,273.36 431.46,272.29 431.60,272.20 431.75,275.43 431.89,269.28 432.03,271.47 432.17,269.93 432.32,272.14 432.46,272.33 432.60,278.15 432.74,273.28 432.89,275.42 433.03,274.78 433.17,272.37 433.32,273.75 433.46,275.52 433.60,273.45 433.74,273.57 433.89,274.06 434.03,271.27 434.17,272.32 434.31,274.03 434.46,274.40 434.60,272.38 434.74,273.30 434.89,273.65 435.00,273.67 435.03,274.88 435.17,274.10 435.31,274.23 435.46,272.04 435.60,272.60 435.74,274.61 435.88,271.94 436.03,274.64 436.17,273.37 436.31,273.21 436.45,275.34 436.60,273.51 436.74,273.30 436.88,273.61 437.03,274.71 437.17,278.59 437.31,271.71 437.45,274.76 437.60,274.49 437.74,276.24 437.88,274.41 438.02,271.47 438.17,276.93 438.31,273.54 438.45,275.06 438.60,273.25 438.74,273.69 438.88,274.60 439.02,276.58 439.17,276.61 439.31,274.61 439.45,276.23 439.59,275.04 439.74,275.78 439.88,275.89 440.02,276.61 440.17,274.90 440.31,275.64 440.45,276.19 440.59,276.06 440.74,274.85 440.88,278.49 441.02,275.43 441.16,277.22 441.31,276.49 441.45,277.99 441.59,273.19 441.73,279.27 441.88,276.10 442.02,274.71 442.16,276.69 442.31,279.77 442.45,277.33 442.59,274.92 442.73,276.06 442.88,278.67 443.02,274.83 443.16,276.62 443.30,276.51 443.45,280.06 443.59,276.62 443.73,278.95 443.88,276.18 444.02,276.05 444.16,278.67 444.30,278.18 444.45,274.90 444.59,278.31 444.73,278.37 444.87,276.64 445.00,277.87 445.02,277.94 445.16,276.91 445.30,276.82 445.44,276.74 445.59,277.35 445.73,275.89 445.87,277.76 446.02,275.74 446.16,278.01 446.30,277.82 446.44,276.52 446.59,279.24 446.73,280.82 446.87,279.99 447.01,276.22 447.16,280.00 447.30,278.55 447.44,278.21 447.59,277.48 447.73,278.36 447.87,280.38 448.01,279.23 448.16,277.91 448.30,277.59 448.44,278.00 448.58,279.46 448.73,281.31 448.87,277.22 449.01,278.75 449.16,278.25 449.30,277.78 449.44,279.45 449.58,279.71 449.73,276.97 449.87,277.55 450.01,280.74 450.15,279.55 450.30,279.88 450.44,278.48 450.58,278.69 450.72,279.92 450.87,278.61 451.01,277.79 451.15,279.40 451.30,280.72 451.44,278.03 451.58,281.02 451.72,280.56 451.87,278.39 452.01,279.66 452.15,279.64 452.29,280.63 452.44,280.72 452.58,277.99 452.72,277.97 452.87,281.36 453.01,280.11 453.15,280.58 453.29,280.51 453.44,282.24 453.58,278.43 453.72,281.70 453.86,279.06 454.01,281.28 454.15,282.18 454.29,278.39 454.44,280.95 454.58,280.04 454.72,280.06 454.86,280.57 455.00,279.07 455.01,279.20 455.15,281.50 455.29,281.79 455.43,279.82 455.58,278.60 455.72,283.92 455.86,282.23 456.00,281.22 456.15,279.29 456.29,279.94 456.43,281.12 456.58,279.46 456.72,283.07 456.86,281.04 457.00,281.42 457.15,279.45 457.29,279.65 457.43,279.84 457.57,281.35 457.72,280.61 457.86,280.60 458.00,281.47 458.15,281.37 458.29,283.15 458.43,280.83 458.57,279.71 458.72,281.13 458.86,283.21 459.00,280.42 459.14,281.28 459.29,280.74 459.43,281.83 459.57,281.64 459.72,280.18 459.86,281.01 460.00,282.67 460.14,282.90 460.29,282.68 460.43,282.62 460.57,280.98 460.71,280.96 460.86,282.78 461.00,279.88 461.14,281.46 461.28,278.97 461.43,281.05 461.57,280.62 461.71,279.95 461.86,282.46 462.00,280.65 462.14,281.19 462.28,281.36 462.43,280.72 462.57,283.74 462.71,281.10 462.85,282.08 463.00,280.02 463.14,281.20 463.28,281.43 463.43,281.48 463.57,281.11 463.71,282.15 463.85,284.13 464.00,281.81 464.14,281.82 464.28,281.50 464.42,285.58 464.57,284.32 464.71,282.88 464.85,283.11 464.99,281.17 465.00,281.94 465.14,282.46 465.28,282.34 465.42,281.00 465.57,281.12 465.71,282.93 465.85,282.66 465.99,279.32 466.14,282.37 466.28,284.02 466.42,281.38 466.56,282.61 466.71,280.28 466.85,283.46 466.99,280.77 467.14,280.60 467.28,281.90 467.42,285.63 467.56,281.52 467.71,280.63 467.85,283.02 467.99,282.71 468.13,284.70 468.28,280.67 468.42,280.23 468.56,282.01 468.71,282.98 468.85,282.96 468.99,283.97 469.13,280.42 469.28,281.36 469.42,282.33 469.56,283.68 469.70,283.19 469.85,281.96 469.99,281.15 470.13,283.79 470.27,283.89 470.42,286.33 470.56,282.36 470.70,284.85 470.85,280.96 470.99,281.89 471.13,281.71 471.27,282.02 471.42,281.46 471.56,281.93 471.70,282.62 471.84,282.09 471.99,283.63 472.13,282.61 472.27,282.74 472.42,284.78 472.56,283.20 472.70,282.99 472.84,282.76 472.99,282.88 473.13,283.60 473.27,281.72 473.41,284.41 473.56,285.01 473.70,284.44 473.84,282.19 473.99,280.69 474.13,282.29 474.27,283.11 474.41,284.05 474.56,282.67 474.70,282.52 474.84,285.04 474.98,282.04 475.00,284.42 475.13,284.21 475.27,281.15 475.41,283.37 475.55,282.23 475.70,281.70 475.84,280.47 475.98,280.87 476.13,283.60 476.27,282.50 476.41,283.42 476.55,281.59 476.70,282.62 476.84,282.70 476.98,280.96 477.12,280.80 477.27,283.70 477.41,283.31 477.55,281.83 477.70,282.98 477.84,284.04 477.98,285.65 478.12,281.93 478.27,284.00 478.41,286.07 478.55,283.26 478.69,285.19 478.84,279.64 478.98,285.19 479.12,283.19 479.26,280.64 479.41,284.29 479.55,284.67 479.69,284.90 479.84,284.89 479.98,283.22 480.12,282.24 480.26,282.64 480.41,283.24 480.55,283.85 480.69,282.64 480.83,283.38 480.98,284.52 481.12,283.77 481.26,286.48 481.41,286.30 481.55,281.78 481.69,282.58 481.83,281.57 481.98,281.78 482.12,284.13 482.26,282.03 482.40,281.97 482.55,283.04 482.69,284.52 482.83,282.94 482.98,282.95 483.12,284.71 483.26,284.10 483.40,284.09 483.55,284.77 483.69,282.09 483.83,283.78 483.97,282.63 484.12,284.91 484.26,284.63 484.40,282.09 484.54,285.37 484.69,281.94 484.83,285.15 484.97,283.84 485.00,282.36 485.12,282.04 485.26,283.17 485.40,283.57 485.54,282.64 485.69,284.40 485.83,281.72 485.97,283.65 486.11,283.67 486.26,281.12 486.40,284.12 486.54,281.98 486.69,280.30 486.83,282.90 486.97,283.44 487.11,285.01 487.26,283.12 487.40,285.82 487.54,285.78 487.68,285.33 487.83,285.66 487.97,284.34 488.11,283.11 488.26,284.77 488.40,285.22 488.54,284.24 488.68,283.59 488.83,281.79 488.97,284.88 489.11,284.45 489.25,282.20 489.40,284.13 489.54,285.00 489.68,283.88 489.82,285.11 489.97,285.09 490.11,282.04 490.25,283.67 490.40,284.76 490.54,285.37 490.68,286.06 490.82,281.51 490.97,284.06 491.11,285.15 491.25,285.86 491.39,286.51 491.54,282.93 491.68,283.71 491.82,282.80 491.97,285.38 492.11,282.45 492.25,285.91 492.39,285.58 492.54,284.98 492.68,281.35 492.82,283.41 492.96,285.38 493.11,282.43 493.25,284.05 493.39,284.25 493.53,285.63 493.68,284.81 493.82,284.82 493.96,283.85 494.11,284.48 494.25,284.30 494.39,285.49 494.53,284.26 494.68,285.94 494.82,282.21 494.96,286.20 495.00,284.32 495.10,286.11 495.25,284.70 495.39,285.77 495.53,286.66 495.68,283.87 495.82,284.75 495.96,284.42 496.10,284.95 496.25,282.46 496.39,284.46 496.53,284.37 496.67,283.65 496.82,284.47 496.96,282.64 497.10,286.68 497.25,285.39 497.39,287.37 497.53,283.61 497.67,283.23 497.82,285.22 497.96,282.57 498.10,285.17 498.24,283.92 498.39,284.44 498.53,285.25 498.67,284.98 498.81,287.48 498.96,285.81 499.10,283.20 499.24,286.32 499.39,283.16 499.53,285.12 499.67,283.32 499.81,283.90 499.96,286.84 500.10,284.30 500.24,284.20 500.38,284.32 500.53,284.68 500.67,287.09 500.81,283.52 500.96,283.46 501.10,285.95 501.24,283.00 501.38,284.69 501.53,286.74 501.67,285.22 501.81,284.57 501.95,284.27 502.10,284.01 502.24,284.46 502.38,285.47 502.53,286.99 502.67,286.63 502.81,284.55 502.95,284.34 503.10,286.30 503.24,282.89 503.38,284.78 503.52,284.95 503.67,283.89 503.81,284.06 503.95,285.90 504.09,283.19 504.24,284.21 504.38,284.59 504.52,285.59 504.67,283.63 504.81,286.99 504.95,285.10 505.00,285.17 505.09,285.04 505.24,284.62 505.38,284.21 505.52,287.11 505.66,285.84 505.81,285.42 505.95,286.93 506.09,284.61 506.24,286.44 506.38,285.63 506.52,284.40 506.66,286.64 506.81,283.59 506.95,286.51 507.09,284.43 507.23,286.20 507.38,287.52 507.52,286.43 507.66,284.85 507.80,285.63 507.95,285.18 508.09,284.10 508.23,284.19 508.38,285.76 508.52,286.44 508.66,283.33 508.80,285.63 508.95,286.42 509.09,285.89 509.23,284.39 509.37,287.15 509.52,284.12 509.66,286.64 509.80,287.94 509.95,283.02 510.09,286.14 510.23,286.22 510.37,286.11 510.52,284.78 510.66,285.40 510.80,283.94 510.94,286.02 511.09,286.57 511.23,284.95 511.37,284.61 511.52,285.23 511.66,285.86 511.80,285.97 511.94,285.75 512.09,285.99 512.23,284.14 512.37,282.24 512.51,286.75 512.66,287.85 512.80,284.03 512.94,285.05 513.08,286.36 513.23,287.25 513.37,286.84 513.51,287.70 513.66,285.92 513.80,286.55 513.94,286.56 514.08,285.43 514.23,287.64 514.37,286.87 514.51,287.35 514.65,285.52 514.80,287.44 514.94,284.65 515.00,286.60 515.08,282.56 515.23,284.71 515.37,287.05 515.51,285.46 515.65,286.30 515.80,283.89 515.94,288.14 516.08,286.86 516.22,286.03 516.37,286.62 516.51,286.50 516.65,287.96 516.80,286.35 516.94,284.09 517.08,285.72 517.22,287.78 517.37,286.83 517.51,285.50 517.65,286.88 517.79,286.22 517.94,286.88 518.08,283.94 518.22,284.86 518.36,286.95 518.51,285.77 518.65,286.53 518.79,288.68 518.94,285.65 519.08,286.39 519.22,285.32 519.36,285.23 519.51,285.96 519.65,284.12 519.79,283.25 519.93,287.89 520.08,285.93 520.22,287.56 520.36,286.23 520.51,286.26 520.65,286.96 520.79,287.02 520.93,284.46 521.08,287.67 521.22,284.77 521.36,286.34 521.50,289.47 521.65,286.17 521.79,288.29 521.93,285.60 522.07,286.88 522.22,286.13 522.36,286.62 522.50,284.93 522.65,284.84 522.79,286.51 522.93,283.98 523.07,284.94 523.22,286.92 523.36,285.25 523.50,284.88 523.64,284.59 523.79,286.26 523.93,285.58 524.07,286.27 524.22,285.82 524.36,288.53 524.50,285.49 524.64,283.46 524.79,286.22 524.93,286.07 525.00,286.27 525.07,283.93 525.21,287.57 525.36,286.02 525.50,286.01 525.64,283.97 525.79,286.69 525.93,285.98 526.07,287.86 526.21,285.52 526.36,284.43 526.50,286.24 526.64,284.86 526.78,286.62 526.93,284.63 527.07,285.90 527.21,285.77 527.35,286.02 527.50,285.39 527.64,284.99 527.78,285.99 527.93,285.30 528.07,286.27 528.21,285.71 528.35,283.10 528.50,285.99 528.64,287.90 528.78,286.47 528.92,286.86 529.07,286.67 529.21,285.45 529.35,284.31 529.50,287.13 529.64,287.46 529.78,286.81 529.92,286.63 530.07,286.59 530.21,286.03 530.35,286.43 530.49,286.08 530.64,286.50 530.78,284.83 530.92,285.24 531.07,286.81 531.21,285.62 531.35,282.90 531.49,286.23 531.64,283.08 531.78,288.57 531.92,287.01 532.06,286.95 532.21,285.20 532.35,284.60 532.49,285.79 532.63,286.10 532.78,285.07 532.92,286.28 533.06,286.97 533.21,286.85 533.35,284.72 533.49,283.26 533.63,286.08 533.78,285.22 533.92,286.66 534.06,288.21 534.20,288.21 534.35,286.45 534.49,287.52 534.63,288.21 534.78,286.14 534.92,286.43 535.06,287.19 535.20,286.03 535.35,285.43 535.49,285.11 535.63,286.09 535.77,285.28 535.92,287.12 536.06,285.65 536.20,287.98 536.34,287.65 536.49,284.48 536.63,287.48 536.77,285.57 536.92,287.86 537.06,286.75 537.20,286.03 537.34,286.96 537.49,285.37 537.63,286.52 537.77,286.59 537.91,285.91 538.06,286.60 538.20,284.81" fill="none" stroke="#1f77b4" stroke-width="1.05" stroke-linejoin="round" stroke-opacity="1"/>
<polyline points="395.50,210.45 395.64,215.13 395.79,220.16 395.80,220.64 395.93,225.59 396.07,230.97 396.20,236.28 396.21,236.20 396.36,238.60 396.50,240.87 396.64,243.45 396.78,245.63 396.90,247.69 396.93,247.76 397.07,249.26 397.21,250.57 397.36,252.06 397.50,253.32 397.64,254.64 397.70,255.34 397.78,255.59 397.93,256.31 398.07,257.17 398.21,257.62 398.35,258.57 398.50,259.16 398.64,259.81 398.70,260.22 398.78,260.46 398.92,260.71 399.07,261.11 399.21,261.56 399.35,261.92 399.50,262.20 399.64,262.49 399.78,262.84 399.92,263.23 400.07,263.71 400.21,264.06 400.35,264.40 400.49,264.86 400.60,264.97 400.64,265.01 400.78,265.20 400.92,265.61 401.07,265.43 401.21,265.84 401.35,266.05 401.49,266.20 401.64,266.61 401.78,266.69 401.92,266.85 402.06,266.88 402.21,267.20 402.35,267.31 402.49,267.55 402.63,267.75 402.78,267.88 402.92,268.18 403.06,268.46 403.21,268.60 403.35,268.71 403.49,268.70 403.50,269.00 403.63,269.10 403.78,269.09 403.92,269.16 404.06,269.38 404.20,269.35 404.35,269.60 404.49,269.53 404.63,269.65 404.78,269.85 404.92,269.82 405.06,270.06 405.20,270.22 405.35,270.15 405.49,270.46 405.63,270.43 405.77,270.64 405.92,270.72 406.06,270.76 406.20,270.86 406.35,270.85 406.49,271.06 406.63,271.15 406.77,271.49 406.92,271.53 407.06,271.42 407.20,271.73 407.34,271.78 407.40,271.76 407.49,271.89 407.63,271.99 407.77,271.93 407.91,272.03 408.06,272.14 408.20,272.11 408.34,272.29 408.49,272.33 408.63,272.35 408.77,272.41 408.91,272.59 409.06,272.71 409.20,272.73 409.34,272.69 409.48,272.91 409.63,272.93 409.77,273.04 409.91,273.16 410.06,273.04 410.20,273.19 410.34,273.21 410.48,273.26 410.63,273.60 410.77,273.57 410.91,273.39 411.05,273.67 411.20,273.65 411.34,273.88 411.48,273.85 411.63,273.90 411.77,274.00 411.91,274.09 412.05,274.13 412.20,274.18 412.34,274.26 412.48,274.39 412.62,274.31 412.77,274.48 412.91,274.54 413.05,274.58 413.19,274.77 413.20,274.58 413.34,274.71 413.48,274.70 413.62,274.88 413.77,274.83 413.91,274.92 414.05,274.99 414.19,274.85 414.34,275.08 414.48,275.01 414.62,275.10 414.76,275.16 414.91,275.29 415.05,275.32 415.19,275.46 415.34,275.35 415.48,275.34 415.62,275.38 415.76,275.53 415.91,275.66 416.05,275.58 416.19,275.54 416.33,275.66 416.48,275.70 416.62,275.72 416.76,275.69 416.91,275.57 417.05,275.80 417.19,275.99 417.33,275.95 417.48,275.77 417.62,276.02 417.76,275.89 417.90,276.29 418.05,276.17 418.19,276.08 418.33,276.31 418.47,276.20 418.62,276.37 418.76,276.36 418.90,276.29 419.05,276.51 419.19,276.36 419.33,276.66 419.47,276.58 419.62,276.52 419.76,276.49 419.90,276.85 420.04,276.88 420.19,276.67 420.33,276.98 420.47,276.89 420.62,276.89 420.76,276.95 420.90,276.97 420.90,277.13 421.04,277.06 421.19,276.92 421.33,277.33 421.47,277.27 421.61,277.13 421.76,277.24 421.90,277.24 422.04,277.38 422.18,277.45 422.33,277.49 422.47,277.45 422.61,277.48 422.76,277.68 422.90,277.64 423.04,277.91 423.18,277.67 423.33,277.86 423.47,277.84 423.61,277.81 423.75,278.05 423.90,277.98 424.04,277.94 424.18,278.04 424.33,278.21 424.47,278.04 424.61,278.33 424.75,278.32 424.90,278.27 425.04,278.47 425.18,278.55 425.32,278.49 425.47,278.50 425.61,278.70 425.75,278.72 425.90,278.54 426.04,278.65 426.18,278.69 426.32,278.72 426.47,278.67 426.61,278.94 426.75,278.91 426.89,278.96 427.04,279.12 427.18,278.99 427.32,279.08 427.46,279.16 427.61,279.14 427.75,279.21 427.89,279.34 428.04,279.32 428.18,279.49 428.32,279.34 428.46,279.47 428.60,279.37 428.61,279.49 428.75,279.48 428.89,279.72 429.03,279.71 429.18,279.74 429.32,279.91 429.46,279.92 429.61,279.90 429.75,279.81 429.89,279.79 430.03,279.97 430.18,279.98 430.32,280.00 430.46,280.08 430.60,280.00 430.75,280.34 430.89,280.14 431.03,280.23 431.18,280.40 431.32,280.24 431.46,280.53 431.60,280.57 431.75,280.50 431.89,280.48 432.03,280.58 432.17,280.50 432.32,280.85 432.46,280.77 432.60,280.74 432.74,280.77 432.89,280.96 433.03,281.10 433.17,280.88 433.32,280.99 433.46,280.93 433.60,281.20 433.74,281.20 433.89,281.45 434.03,281.27 434.17,281.29 434.31,281.31 434.46,281.50 434.60,281.31 434.74,281.59 434.89,281.59 435.00,281.55 435.03,281.52 435.17,281.76 435.31,281.88 435.46,281.71 435.60,281.85 435.74,282.02 435.88,281.84 436.03,281.93 436.17,281.88 436.31,282.03 436.45,282.09 436.60,282.10 436.74,282.12 436.88,282.09 437.03,282.16 437.17,282.24 437.31,282.45 437.45,282.39 437.60,282.40 437.74,282.59 437.88,282.63 438.02,282.56 438.17,282.62 438.31,282.79 438.45,282.81 438.60,282.74 438.74,282.89 438.88,282.92 439.02,283.07 439.17,282.93 439.31,283.15 439.45,283.15 439.59,283.07 439.74,283.31 439.88,283.35 440.00,283.17 440.02,283.50 440.17,283.25 440.31,283.32 440.45,283.42 440.59,283.58 440.74,283.61 440.88,283.59 441.02,283.78 441.16,283.73 441.31,283.88 441.45,284.06 441.59,283.86 441.73,283.64 441.88,283.90 442.02,283.88 442.16,284.04 442.31,284.09 442.45,284.01 442.59,284.07 442.73,284.20 442.88,284.26 443.02,284.08 443.16,284.47 443.30,284.43 443.45,284.47 443.59,284.55 443.73,284.47 443.88,284.61 444.02,284.77 444.16,284.82 444.30,284.81 444.45,284.78 444.59,284.78 444.73,285.04 444.87,285.01 445.00,284.96 445.02,284.79 445.16,284.95 445.30,284.87 445.44,285.21 445.59,285.14 445.73,285.07 445.87,285.15 446.02,285.46 446.16,285.35 446.30,285.13 446.44,285.28 446.59,285.20 446.73,285.18 446.87,285.39 447.01,285.64 447.16,285.58 447.30,285.46 447.44,285.45 447.59,285.54 447.73,285.65 447.87,285.43 448.01,285.42 448.16,285.82 448.30,285.69 448.44,285.85 448.58,285.74 448.73,285.89 448.87,285.71 449.01,285.85 449.16,285.98 449.30,285.96 449.44,285.84 449.58,286.00 449.73,285.88 449.87,285.83 450.01,286.05 450.15,286.17 450.30,286.14 450.44,285.96 450.58,286.20 450.72,286.21 450.87,286.13 451.01,285.96 451.15,286.33 451.30,286.35 451.44,286.34 451.58,286.14 451.72,286.20 451.87,286.47 452.01,286.48 452.15,286.48 452.29,286.43 452.44,286.53 452.58,286.46 452.72,286.51 452.87,286.49 453.01,286.63 453.15,286.59 453.29,286.75 453.44,286.76 453.58,286.64 453.72,286.93 453.86,286.66 454.01,286.85 454.15,286.94 454.29,286.99 454.44,286.67 454.58,287.02 454.72,287.07 454.86,287.12 455.00,286.78 455.01,286.93 455.15,287.01 455.29,287.00 455.43,287.20 455.58,287.02 455.72,287.24 455.86,287.19 456.00,287.02 456.15,287.08 456.29,287.16 456.43,287.24 456.58,287.35 456.72,287.26 456.86,287.39 457.00,287.16 457.15,287.04 457.29,287.33 457.43,287.43 457.57,287.38 457.72,287.33 457.86,287.50 458.00,287.67 458.15,287.49 458.29,287.45 458.43,287.46 458.57,287.77 458.72,287.59 458.86,287.68 459.00,287.76 459.14,287.77 459.29,287.59 459.43,287.80 459.57,287.82 459.72,287.80 459.86,287.88 460.00,287.74 460.14,287.82 460.29,287.79 460.43,287.94 460.57,287.83 460.71,287.95 460.86,287.83 461.00,287.95 461.14,287.95 461.28,287.99 461.43,288.04 461.57,288.03 461.71,288.05 461.86,287.89 462.00,288.23 462.14,288.08 462.28,288.14 462.43,288.11 462.57,288.31 462.71,288.14 462.85,288.31 463.00,288.40 463.14,288.47 463.28,288.44 463.43,288.41 463.57,288.25 463.71,288.52 463.85,288.54 464.00,288.52 464.14,288.54 464.28,288.49 464.42,288.46 464.57,288.64 464.71,288.68 464.85,288.47 464.99,288.69 465.00,288.63 465.14,288.70 465.28,288.66 465.42,288.75 465.57,288.76 465.71,288.76 465.85,288.55 465.99,288.78 466.14,288.72 466.28,288.62 466.42,288.81 466.56,288.62 466.71,288.86 466.85,288.96 466.99,288.75 467.14,288.91 467.28,288.87 467.42,288.91 467.56,288.72 467.71,288.93 467.85,288.90 467.99,288.97 468.13,288.92 468.28,289.04 468.42,288.97 468.56,289.03 468.71,289.11 468.85,289.01 468.99,289.10 469.13,289.04 469.28,289.08 469.42,288.99 469.56,289.14 469.70,289.19 469.85,289.08 469.99,289.18 470.13,289.16 470.27,289.02 470.42,289.18 470.56,289.29 470.70,289.13 470.85,289.01 470.99,289.22 471.13,289.15 471.27,289.42 471.42,289.24 471.56,289.26 471.70,289.21 471.84,289.31 471.99,289.25 472.13,289.23 472.27,289.32 472.42,289.27 472.56,289.49 472.70,289.26 472.84,289.38 472.99,289.33 473.13,289.28 473.27,289.59 473.41,289.24 473.56,289.60 473.70,289.33 473.84,289.50 473.99,289.72 474.13,289.31 474.27,289.40 474.41,289.67 474.56,289.58 474.70,289.52 474.84,289.58 474.98,289.51 475.00,289.62 475.13,289.76 475.27,289.59 475.41,289.66 475.55,289.78 475.70,289.87 475.84,289.63 475.98,289.73 476.13,289.66 476.27,289.67 476.41,289.71 476.55,289.70 476.70,289.60 476.84,289.59 476.98,289.73 477.12,289.83 477.27,289.95 477.41,289.79 477.55,289.84 477.70,289.94 477.84,289.96 477.98,289.89 478.12,289.91 478.27,290.11 478.41,289.91 478.55,289.91 478.69,289.81 478.84,290.03 478.98,289.98 479.12,290.20 479.26,290.00 479.41,290.12 479.55,290.15 479.69,290.23 479.84,289.96 479.98,290.25 480.12,290.12 480.26,290.12 480.41,290.11 480.55,290.12 480.69,290.14 480.83,289.96 480.98,290.25 481.12,290.22 481.26,290.14 481.41,290.24 481.55,290.48 481.69,290.31 481.83,290.25 481.98,290.47 482.12,290.24 482.26,290.31 482.40,290.29 482.55,290.34 482.69,290.44 482.83,290.44 482.98,290.33 483.12,290.40 483.26,290.44 483.40,290.40 483.55,290.45 483.69,290.40 483.83,290.41 483.97,290.51 484.12,290.41 484.26,290.57 484.40,290.52 484.54,290.47 484.69,290.51 484.83,290.54 484.97,290.58 485.00,290.61 485.12,290.59 485.26,290.53 485.40,290.77 485.54,290.72 485.69,290.66 485.83,290.75 485.97,290.69 486.11,290.64 486.26,290.69 486.40,290.95 486.54,290.79 486.69,290.81 486.83,290.67 486.97,290.78 487.11,290.95 487.26,290.78 487.40,290.85 487.54,290.88 487.68,290.83 487.83,290.93 487.97,290.80 488.11,290.84 488.26,290.74 488.40,291.06 488.54,290.84 488.68,290.83 488.83,290.97 488.97,290.79 489.11,290.85 489.25,290.78 489.40,290.87 489.54,290.84 489.68,290.94 489.82,290.88 489.97,290.84 490.11,290.88 490.25,290.91 490.40,290.88 490.54,291.03 490.68,291.01 490.82,290.97 490.97,290.85 491.11,291.02 491.25,290.85 491.39,291.00 491.54,291.00 491.68,290.95 491.82,290.93 491.97,290.95 492.11,291.23 492.25,291.01 492.39,291.03 492.54,291.15 492.68,291.10 492.82,291.17 492.96,290.96 493.11,290.98 493.25,291.42 493.39,291.10 493.53,291.09 493.68,291.14 493.82,291.23 493.96,291.03 494.11,291.18 494.25,291.15 494.39,291.23 494.53,291.19 494.68,291.13 494.82,291.11 494.96,290.97 495.00,291.30 495.10,291.07 495.25,291.18 495.39,291.39 495.53,291.19 495.68,291.30 495.82,291.23 495.96,291.33 496.10,291.27 496.25,291.23 496.39,291.42 496.53,291.27 496.67,291.17 496.82,291.28 496.96,291.37 497.10,291.22 497.25,291.41 497.39,291.42 497.53,291.56 497.67,291.30 497.82,291.44 497.96,291.22 498.10,291.35 498.24,291.41 498.39,291.44 498.53,291.41 498.67,291.41 498.81,291.37 498.96,291.40 499.10,291.48 499.24,291.51 499.39,291.53 499.53,291.57 499.67,291.60 499.81,291.32 499.96,291.45 500.10,291.49 500.24,291.46 500.38,291.63 500.53,291.61 500.67,291.53 500.81,291.56 500.96,291.68 501.10,291.54 501.24,291.55 501.38,291.67 501.53,291.64 501.67,291.74 501.81,291.65 501.95,291.69 502.10,291.58 502.24,291.55 502.38,291.64 502.53,291.40 502.67,291.70 502.81,291.76 502.95,291.69 503.10,291.67 503.24,291.80 503.38,291.70 503.52,291.81 503.67,291.93 503.81,291.80 503.95,291.83 504.09,291.80 504.24,291.78 504.38,291.79 504.52,291.78 504.67,291.89 504.81,291.64 504.95,291.77 505.00,291.87 505.09,291.73 505.24,291.80 505.38,291.75 505.52,291.87 505.66,291.91 505.81,291.97 505.95,291.89 506.09,291.78 506.24,291.88 506.38,291.91 506.52,292.00 506.66,291.66 506.81,291.91 506.95,291.71 507.09,291.95 507.23,291.93 507.38,291.95 507.52,291.99 507.66,291.95 507.80,291.85 507.95,291.95 508.09,292.04 508.23,291.92 508.38,291.94 508.52,291.83 508.66,292.06 508.80,291.91 508.95,291.89 509.09,291.92 509.23,291.89 509.37,291.95 509.52,292.11 509.66,292.06 509.80,292.13 509.95,292.14 510.09,291.92 510.23,292.06 510.37,292.16 510.52,292.24 510.66,291.89 510.80,291.90 510.94,292.09 511.09,292.01 511.23,291.96 511.37,292.09 511.52,291.99 511.66,291.85 511.80,292.07 511.94,292.09 512.09,292.15 512.23,292.18 512.37,292.11 512.51,292.08 512.66,292.05 512.80,291.96 512.94,292.08 513.08,292.22 513.23,292.19 513.37,292.33 513.51,292.13 513.66,291.98 513.80,292.23 513.94,292.26 514.08,292.05 514.23,292.02 514.37,292.19 514.51,292.25 514.65,292.08 514.80,292.16 514.94,292.13 515.00,292.09 515.08,292.08 515.23,292.22 515.37,292.17 515.51,292.14 515.65,291.95 515.80,292.37 515.94,292.11 516.08,292.19 516.22,292.09 516.37,292.24 516.51,292.06 516.65,292.21 516.80,292.18 516.94,292.29 517.08,292.10 517.22,292.14 517.37,292.18 517.51,292.40 517.65,292.06 517.79,292.23 517.94,292.14 518.08,292.23 518.22,292.26 518.36,292.21 518.51,292.23 518.65,292.23 518.79,292.15 518.94,292.18 519.08,292.04 519.22,292.17 519.36,292.13 519.51,292.18 519.65,292.27 519.79,292.24 519.93,292.25 520.08,292.31 520.22,291.97 520.36,292.24 520.51,292.20 520.65,292.19 520.79,292.08 520.93,292.25 521.08,292.31 521.22,292.30 521.36,292.19 521.50,292.26 521.65,292.29 521.79,292.37 521.93,292.32 522.07,292.21 522.22,292.21 522.36,292.22 522.50,292.22 522.65,292.15 522.79,292.27 522.93,292.13 523.07,292.12 523.22,292.23 523.36,292.15 523.50,292.18 523.64,292.00 523.79,292.28 523.93,292.20 524.07,292.19 524.22,292.24 524.36,292.22 524.50,292.13 524.64,292.39 524.79,292.16 524.93,292.29 525.00,292.37 525.07,292.14 525.21,292.21 525.36,292.12 525.50,292.29 525.64,292.16 525.79,292.08 525.93,292.31 526.07,292.27 526.21,292.10 526.36,292.29 526.50,292.19 526.64,292.43 526.78,292.33 526.93,292.12 527.07,292.14 527.21,292.08 527.35,292.17 527.50,292.16 527.64,292.23 527.78,292.16 527.93,292.01 528.07,292.07 528.21,292.28 528.35,292.25 528.50,292.13 528.64,292.13 528.78,292.12 528.92,292.14 529.07,291.97 529.21,292.22 529.35,292.06 529.50,292.14 529.64,291.88 529.78,292.14 529.92,292.25 530.07,291.90 530.21,292.26 530.35,292.16 530.49,292.04 530.64,291.95 530.78,292.21 530.92,292.13 531.07,292.16 531.21,292.07 531.35,292.02 531.49,292.17 531.64,292.00 531.78,292.17 531.92,291.93 532.06,291.99 532.21,291.94 532.35,292.20 532.49,291.91 532.63,291.96 532.78,292.13 532.92,292.09 533.06,292.28 533.21,292.24 533.35,292.12 533.49,292.12 533.63,291.88 533.78,291.97 533.92,292.02 534.06,292.03 534.20,291.92 534.35,291.96 534.49,291.96 534.63,292.14 534.78,292.08 534.92,292.00 535.06,292.01 535.20,292.06 535.35,291.96 535.49,292.00 535.63,291.86 535.77,292.08 535.92,292.11 536.06,292.05 536.20,292.06 536.34,292.05 536.49,292.20 536.63,292.03 536.77,291.88 536.92,291.90 537.00,292.07 537.06,292.06 537.20,291.92 537.34,291.82 537.49,291.65 537.63,291.39 537.77,291.35 537.91,291.14 538.06,291.17 538.20,290.97" fill="none" stroke="#ff7f0e" stroke-width="0.95" stroke-linejoin="round" stroke-opacity="1"/>
</g>
<rect x="388.3" y="190.4" width="157.2" height="106.99999999999997" fill="none" stroke="#959595" stroke-width="1"/>
<line x1="395.50" y1="297.4" x2="395.50" y2="299.4" stroke="#666" stroke-width="0.75"/>
<text class="t" x="395.50" y="305.60" font-size="5.61" text-anchor="middle" fill="#1e1e1e" textLength="2.84" lengthAdjust="spacingAndGlyphs">0</text>
<line x1="424.08" y1="297.4" x2="424.08" y2="299.4" stroke="#666" stroke-width="0.75"/>
<text class="t" x="424.08" y="305.60" font-size="5.61" text-anchor="middle" fill="#1e1e1e" textLength="8.51" lengthAdjust="spacingAndGlyphs">200</text>
<line x1="452.66" y1="297.4" x2="452.66" y2="299.4" stroke="#666" stroke-width="0.75"/>
<text class="t" x="452.66" y="305.60" font-size="5.61" text-anchor="middle" fill="#1e1e1e" textLength="8.51" lengthAdjust="spacingAndGlyphs">400</text>
<line x1="481.24" y1="297.4" x2="481.24" y2="299.4" stroke="#666" stroke-width="0.75"/>
<text class="t" x="481.24" y="305.60" font-size="5.61" text-anchor="middle" fill="#1e1e1e" textLength="8.51" lengthAdjust="spacingAndGlyphs">600</text>
<line x1="509.82" y1="297.4" x2="509.82" y2="299.4" stroke="#666" stroke-width="0.75"/>
<text class="t" x="509.82" y="305.60" font-size="5.61" text-anchor="middle" fill="#1e1e1e" textLength="8.51" lengthAdjust="spacingAndGlyphs">800</text>
<line x1="538.40" y1="297.4" x2="538.40" y2="299.4" stroke="#666" stroke-width="0.75"/>
<text class="t" x="538.40" y="305.60" font-size="5.61" text-anchor="middle" fill="#1e1e1e" textLength="11.34" lengthAdjust="spacingAndGlyphs">1000</text>
<line x1="386.3" y1="288.70" x2="388.3" y2="288.70" stroke="#666" stroke-width="0.75"/>
<text class="t" x="385.00" y="290.75" font-size="5.61" text-anchor="end" fill="#1e1e1e" textLength="7.09" lengthAdjust="spacingAndGlyphs">0.1</text>
<line x1="386.3" y1="276.01" x2="388.3" y2="276.01" stroke="#666" stroke-width="0.75"/>
<text class="t" x="385.00" y="278.06" font-size="5.61" text-anchor="end" fill="#1e1e1e" textLength="7.09" lengthAdjust="spacingAndGlyphs">0.2</text>
<line x1="386.3" y1="263.32" x2="388.3" y2="263.32" stroke="#666" stroke-width="0.75"/>
<text class="t" x="385.00" y="265.37" font-size="5.61" text-anchor="end" fill="#1e1e1e" textLength="7.09" lengthAdjust="spacingAndGlyphs">0.3</text>
<line x1="386.3" y1="250.63" x2="388.3" y2="250.63" stroke="#666" stroke-width="0.75"/>
<text class="t" x="385.00" y="252.68" font-size="5.61" text-anchor="end" fill="#1e1e1e" textLength="7.09" lengthAdjust="spacingAndGlyphs">0.4</text>
<line x1="386.3" y1="237.94" x2="388.3" y2="237.94" stroke="#666" stroke-width="0.75"/>
<text class="t" x="385.00" y="239.99" font-size="5.61" text-anchor="end" fill="#1e1e1e" textLength="7.09" lengthAdjust="spacingAndGlyphs">0.5</text>
<line x1="386.3" y1="225.25" x2="388.3" y2="225.25" stroke="#666" stroke-width="0.75"/>
<text class="t" x="385.00" y="227.30" font-size="5.61" text-anchor="end" fill="#1e1e1e" textLength="7.09" lengthAdjust="spacingAndGlyphs">0.6</text>
<line x1="386.3" y1="212.56" x2="388.3" y2="212.56" stroke="#666" stroke-width="0.75"/>
<text class="t" x="385.00" y="214.61" font-size="5.61" text-anchor="end" fill="#1e1e1e" textLength="7.09" lengthAdjust="spacingAndGlyphs">0.7</text>
<line x1="386.3" y1="199.87" x2="388.3" y2="199.87" stroke="#666" stroke-width="0.75"/>
<text class="t" x="385.00" y="201.92" font-size="5.61" text-anchor="end" fill="#1e1e1e" textLength="7.09" lengthAdjust="spacingAndGlyphs">0.8</text>
<text class="t" x="466.70" y="187.40" font-size="6.8" text-anchor="middle" fill="#1e1e1e" textLength="30.50" lengthAdjust="spacingAndGlyphs">Model Loss</text>
<text class="t" x="466.60" y="312.20" font-size="5.61" text-anchor="middle" fill="#1e1e1e" textLength="13.20" lengthAdjust="spacingAndGlyphs">epoch</text>
<text class="t" x="375.60" y="247.40" font-size="5.61" text-anchor="middle" fill="#1e1e1e" textLength="9.20" lengthAdjust="spacingAndGlyphs" transform="rotate(-90 375.60 247.40)">loss</text>
<rect x="515.3" y="192.6" width="27.300000000000068" height="16.0" rx="1" fill="#fff" fill-opacity="0.85" stroke="#d6d6d6" stroke-width="0.6"/>
<line x1="516.6" y1="197.0" x2="526.9" y2="197.0" stroke="#1f77b4" stroke-width="0.9" stroke-opacity="0.85"/>
<line x1="516.6" y1="204.4" x2="526.9" y2="204.4" stroke="#ff7f0e" stroke-width="0.9" stroke-opacity="0.8"/>
<text class="t" x="530.20" y="199.30" font-size="5.6" text-anchor="start" fill="#1e1e1e" textLength="10.60" lengthAdjust="spacingAndGlyphs">train</text>
<text class="t" x="530.20" y="206.70" font-size="5.6" text-anchor="start" fill="#1e1e1e" textLength="8.40" lengthAdjust="spacingAndGlyphs">test</text></g>
<text class="cap" x="105.4" y="146.45">(a)Model accuracy of CNN</text>
<text class="cap" x="105.4" y="160.6">with 10 fold validations</text>
<text class="cap" x="288.9" y="143.8">(b) Model accuracy of</text>
<text class="cap" x="288.9" y="157.8">CNN-Bi-LSTM with 10 fold</text>
<text class="cap" x="288.9" y="171.8">validations</text>
<text class="cap" x="465.8" y="143.4">(c) Model accuracy of</text>
<text class="cap" x="465.8" y="157.4">CNN-LSTM with 10 fold</text>
<text class="cap" x="465.8" y="171.4">validations</text>
<text class="cap" x="98.7" y="335.4">(d)Model loss of CNN with 10</text>
<text class="cap" x="98.7" y="349.6">fold validations</text>
<text class="cap" x="282.3" y="329.2">(e) Model loss of</text>
<text class="cap" x="282.3" y="343.0">CNN-Bi-LSTM with 10 fold</text>
<text class="cap" x="282.3" y="356.8">validations</text>
<text class="cap" x="456.0" y="328.9">(f) Model loss of</text>
<text class="cap" x="456.0" y="342.5">CNN-LSTM with 10 fold</text>
<text class="cap" x="456.0" y="356.2">validations</text>
</svg>
</body></html>
